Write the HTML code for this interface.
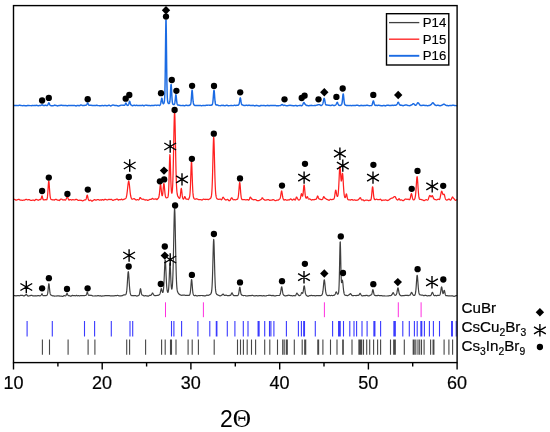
<!DOCTYPE html>
<html><head><meta charset="utf-8"><title>XRD</title>
<style>html,body{margin:0;padding:0;background:#fff}body{width:550px;height:432px;overflow:hidden}</style></head>
<body>
<svg width="550" height="432" viewBox="0 0 550 432" style="display:block">
<rect width="550" height="432" fill="#fff"/>
<polyline points="13.5,295.9 13.7,295.8 13.9,295.7 14.1,295.7 14.3,295.6 14.5,295.6 14.7,295.6 14.9,295.6 15.1,295.6 15.3,295.7 15.5,295.8 15.7,295.9 15.9,295.9 16.1,295.9 16.3,295.8 16.5,295.8 16.7,295.7 16.9,295.6 17.1,295.6 17.3,295.6 17.5,295.6 17.7,295.7 17.9,295.7 18.1,295.7 18.3,295.7 18.5,295.7 18.7,295.7 18.9,295.7 19.1,295.8 19.3,295.8 19.5,295.7 19.7,295.7 19.9,295.6 20.1,295.5 20.3,295.4 20.5,295.3 20.7,295.3 20.9,295.4 21.1,295.4 21.3,295.4 21.5,295.4 21.7,295.4 21.9,295.4 22.1,295.4 22.3,295.3 22.5,295.3 22.7,295.4 22.9,295.5 23.1,295.6 23.3,295.7 23.5,295.9 23.7,296.0 23.9,296.0 24.1,296.0 24.3,295.9 24.5,295.8 24.7,295.6 24.9,295.5 25.1,295.4 25.3,295.2 25.5,295.1 25.7,294.9 25.9,294.7 26.1,294.5 26.3,294.5 26.5,294.5 26.7,294.7 26.9,295.0 27.1,295.3 27.3,295.5 27.5,295.7 27.7,295.9 27.9,296.0 28.1,296.1 28.3,296.1 28.5,296.0 28.7,296.0 28.9,295.9 29.1,295.8 29.3,295.8 29.5,295.8 29.7,295.7 29.9,295.7 30.1,295.7 30.3,295.7 30.5,295.6 30.7,295.5 30.9,295.4 31.1,295.3 31.3,295.3 31.5,295.3 31.7,295.3 31.9,295.4 32.1,295.5 32.3,295.6 32.5,295.7 32.7,295.8 32.9,295.8 33.1,295.9 33.3,295.9 33.5,295.9 33.7,295.9 33.9,295.9 34.1,295.9 34.3,295.9 34.5,295.9 34.7,295.8 34.9,295.8 35.1,295.8 35.3,295.8 35.5,295.7 35.7,295.8 35.9,295.8 36.1,295.8 36.3,295.8 36.5,295.9 36.7,295.9 36.9,295.9 37.1,295.8 37.3,295.8 37.5,295.7 37.7,295.7 37.9,295.6 38.1,295.6 38.3,295.6 38.5,295.6 38.7,295.7 38.9,295.7 39.1,295.7 39.3,295.8 39.5,295.8 39.7,295.9 39.9,295.9 40.1,295.8 40.3,295.8 40.5,295.7 40.7,295.5 40.9,295.3 41.1,295.1 41.3,294.8 41.5,294.4 41.7,294.0 41.9,293.8 42.1,293.9 42.3,294.2 42.5,294.7 42.7,295.1 42.9,295.4 43.1,295.6 43.3,295.7 43.5,295.7 43.7,295.7 43.9,295.6 44.1,295.6 44.3,295.6 44.5,295.6 44.7,295.6 44.9,295.6 45.1,295.6 45.3,295.6 45.5,295.6 45.7,295.6 45.9,295.6 46.1,295.6 46.3,295.5 46.5,295.5 46.7,295.4 46.9,295.3 47.1,295.1 47.3,294.7 47.5,294.1 47.7,293.2 47.9,291.8 48.1,290.0 48.3,287.9 48.5,285.8 48.7,284.2 48.9,283.7 49.1,284.4 49.3,286.1 49.5,288.3 49.7,290.3 49.9,292.0 50.1,293.2 50.3,294.0 50.5,294.5 50.7,294.8 50.9,295.0 51.1,295.1 51.3,295.2 51.5,295.3 51.7,295.4 51.9,295.5 52.1,295.6 52.3,295.7 52.5,295.8 52.7,295.8 52.9,295.9 53.1,295.9 53.3,295.8 53.5,295.8 53.7,295.9 53.9,295.9 54.1,296.0 54.3,296.0 54.5,296.1 54.7,296.1 54.9,296.0 55.1,296.0 55.3,296.0 55.5,296.0 55.7,296.0 55.9,296.0 56.1,296.1 56.3,296.0 56.5,296.0 56.7,296.0 56.9,295.9 57.1,295.9 57.3,295.8 57.5,295.8 57.7,295.8 57.9,295.8 58.1,295.8 58.3,295.8 58.5,295.8 58.7,295.8 58.9,295.8 59.1,295.8 59.3,295.9 59.5,296.0 59.7,296.1 59.9,296.1 60.1,296.1 60.3,296.1 60.5,296.1 60.7,296.0 60.9,296.0 61.1,296.0 61.3,296.0 61.5,296.1 61.7,296.2 61.9,296.3 62.1,296.4 62.3,296.5 62.5,296.5 62.7,296.5 62.9,296.4 63.1,296.2 63.3,296.1 63.5,295.9 63.7,295.8 63.9,295.7 64.1,295.6 64.3,295.6 64.5,295.7 64.7,295.7 64.9,295.8 65.1,295.9 65.3,296.0 65.5,295.9 65.7,295.8 65.9,295.6 66.1,295.3 66.3,294.8 66.5,294.3 66.7,293.8 66.9,293.5 67.1,293.4 67.3,293.7 67.5,294.2 67.7,294.7 67.9,295.1 68.1,295.5 68.3,295.6 68.5,295.7 68.7,295.7 68.9,295.7 69.1,295.7 69.3,295.7 69.5,295.8 69.7,295.8 69.9,295.9 70.1,296.0 70.3,296.1 70.5,296.2 70.7,296.2 70.9,296.1 71.1,296.1 71.3,296.0 71.5,295.9 71.7,295.7 71.9,295.6 72.1,295.5 72.3,295.4 72.5,295.4 72.7,295.5 72.9,295.6 73.1,295.6 73.3,295.7 73.5,295.7 73.7,295.6 73.9,295.6 74.1,295.6 74.3,295.6 74.5,295.6 74.7,295.7 74.9,295.7 75.1,295.8 75.3,295.8 75.5,295.8 75.7,295.7 75.9,295.7 76.1,295.6 76.3,295.5 76.5,295.4 76.7,295.4 76.9,295.5 77.1,295.6 77.3,295.7 77.5,295.8 77.7,295.8 77.9,295.8 78.1,295.7 78.3,295.7 78.5,295.7 78.7,295.7 78.9,295.7 79.1,295.8 79.3,295.8 79.5,295.9 79.7,295.8 79.9,295.8 80.1,295.7 80.3,295.7 80.5,295.6 80.7,295.5 80.9,295.5 81.1,295.5 81.3,295.6 81.5,295.6 81.7,295.7 81.9,295.7 82.1,295.7 82.3,295.7 82.5,295.6 82.7,295.5 82.9,295.5 83.1,295.5 83.3,295.5 83.5,295.6 83.7,295.6 83.9,295.7 84.1,295.7 84.3,295.6 84.5,295.6 84.7,295.5 84.9,295.5 85.1,295.5 85.3,295.5 85.5,295.5 85.7,295.5 85.9,295.4 86.1,295.2 86.3,294.8 86.5,294.3 86.7,293.7 86.9,293.0 87.1,292.4 87.3,292.2 87.5,292.4 87.7,293.0 87.9,293.7 88.1,294.3 88.3,294.8 88.5,295.1 88.7,295.3 88.9,295.4 89.1,295.3 89.3,295.3 89.5,295.3 89.7,295.2 89.9,295.2 90.1,295.2 90.3,295.3 90.5,295.3 90.7,295.4 90.9,295.4 91.1,295.4 91.3,295.4 91.5,295.4 91.7,295.5 91.9,295.5 92.1,295.6 92.3,295.8 92.5,295.9 92.7,296.0 92.9,296.0 93.1,296.0 93.3,296.0 93.5,296.0 93.7,296.0 93.9,296.0 94.1,296.0 94.3,296.0 94.5,296.0 94.7,296.0 94.9,295.9 95.1,295.9 95.3,295.8 95.5,295.8 95.7,295.9 95.9,295.9 96.1,296.0 96.3,296.0 96.5,296.0 96.7,296.0 96.9,295.9 97.1,295.9 97.3,295.8 97.5,295.7 97.7,295.6 97.9,295.5 98.1,295.5 98.3,295.5 98.5,295.6 98.7,295.7 98.9,295.8 99.1,295.9 99.3,295.9 99.5,295.9 99.7,295.9 99.9,295.8 100.1,295.8 100.3,295.7 100.5,295.8 100.7,295.8 100.9,295.9 101.1,296.0 101.3,296.1 101.5,296.2 101.7,296.2 101.9,296.1 102.1,296.1 102.3,296.0 102.5,296.0 102.7,295.9 102.9,295.9 103.1,296.0 103.3,296.0 103.5,296.0 103.7,296.0 103.9,295.9 104.1,295.9 104.3,295.8 104.5,295.8 104.7,295.7 104.9,295.6 105.1,295.6 105.3,295.6 105.5,295.6 105.7,295.6 105.9,295.6 106.1,295.7 106.3,295.7 106.5,295.7 106.7,295.7 106.9,295.7 107.1,295.7 107.3,295.6 107.5,295.6 107.7,295.5 107.9,295.5 108.1,295.6 108.3,295.6 108.5,295.6 108.7,295.7 108.9,295.7 109.1,295.7 109.3,295.7 109.5,295.7 109.7,295.7 109.9,295.8 110.1,295.8 110.3,295.8 110.5,295.8 110.7,295.8 110.9,295.8 111.1,295.8 111.3,295.8 111.5,295.8 111.7,295.9 111.9,295.9 112.1,295.9 112.3,295.8 112.5,295.8 112.7,295.8 112.9,295.8 113.1,295.8 113.3,295.8 113.5,295.8 113.7,295.8 113.9,295.8 114.1,295.8 114.3,295.8 114.5,295.8 114.7,295.7 114.9,295.7 115.1,295.6 115.3,295.6 115.5,295.6 115.7,295.6 115.9,295.6 116.1,295.7 116.3,295.7 116.5,295.6 116.7,295.6 116.9,295.5 117.1,295.5 117.3,295.4 117.5,295.4 117.7,295.5 117.9,295.5 118.1,295.5 118.3,295.6 118.5,295.6 118.7,295.7 118.9,295.8 119.1,295.8 119.3,295.9 119.5,295.9 119.7,295.8 119.9,295.8 120.1,295.8 120.3,295.8 120.5,295.9 120.7,295.9 120.9,295.9 121.1,295.9 121.3,295.8 121.5,295.8 121.7,295.7 121.9,295.7 122.1,295.7 122.3,295.7 122.5,295.6 122.7,295.5 122.9,295.4 123.1,295.2 123.3,295.1 123.5,295.0 123.7,295.0 123.9,294.9 124.1,294.9 124.3,294.9 124.5,294.9 124.7,294.9 124.9,294.9 125.1,294.8 125.3,294.8 125.5,294.7 125.7,294.6 125.9,294.3 126.1,293.9 126.3,293.3 126.5,292.3 126.7,290.9 126.9,289.0 127.1,286.6 127.3,283.7 127.5,280.5 127.7,277.3 127.9,274.4 128.1,272.4 128.3,271.6 128.5,272.3 128.7,274.3 128.9,277.1 129.1,280.4 129.3,283.6 129.5,286.5 129.7,288.9 129.9,290.8 130.1,292.2 130.3,293.3 130.5,294.0 130.7,294.5 130.9,295.0 131.1,295.3 131.3,295.5 131.5,295.5 131.7,295.6 131.9,295.6 132.1,295.5 132.3,295.6 132.5,295.6 132.7,295.7 132.9,295.7 133.1,295.7 133.3,295.8 133.5,295.7 133.7,295.7 133.9,295.7 134.1,295.6 134.3,295.6 134.5,295.6 134.7,295.6 134.9,295.6 135.1,295.6 135.3,295.6 135.5,295.7 135.7,295.7 135.9,295.7 136.1,295.8 136.3,295.9 136.5,296.0 136.7,296.0 136.9,296.1 137.1,296.0 137.3,296.0 137.5,295.9 137.7,295.8 137.9,295.7 138.1,295.7 138.3,295.6 138.5,295.5 138.7,295.4 138.9,295.3 139.1,295.0 139.3,294.5 139.5,293.8 139.7,292.8 139.9,291.5 140.1,290.2 140.3,289.1 140.5,288.7 140.7,289.1 140.9,290.2 141.1,291.5 141.3,292.8 141.5,293.7 141.7,294.4 141.9,294.8 142.1,295.0 142.3,295.1 142.5,295.1 142.7,295.2 142.9,295.3 143.1,295.4 143.3,295.5 143.5,295.7 143.7,295.8 143.9,295.9 144.1,295.9 144.3,295.9 144.5,295.9 144.7,295.8 144.9,295.8 145.1,295.7 145.3,295.7 145.5,295.7 145.7,295.7 145.9,295.8 146.1,295.8 146.3,295.8 146.5,295.8 146.7,295.8 146.9,295.8 147.1,295.8 147.3,295.9 147.5,296.0 147.7,296.1 147.9,296.2 148.1,296.2 148.3,296.2 148.5,296.1 148.7,296.0 148.9,295.8 149.1,295.6 149.3,295.5 149.5,295.4 149.7,295.3 149.9,295.3 150.1,295.3 150.3,295.4 150.5,295.4 150.7,295.4 150.9,295.3 151.1,295.2 151.3,295.0 151.5,294.7 151.7,294.3 151.9,293.9 152.1,293.4 152.3,293.1 152.5,293.0 152.7,293.1 152.9,293.4 153.1,293.8 153.3,294.2 153.5,294.6 153.7,294.9 153.9,295.1 154.1,295.3 154.3,295.4 154.5,295.5 154.7,295.6 154.9,295.6 155.1,295.7 155.3,295.7 155.5,295.7 155.7,295.6 155.9,295.6 156.1,295.6 156.3,295.5 156.5,295.5 156.7,295.5 156.9,295.5 157.1,295.4 157.3,295.4 157.5,295.4 157.7,295.4 157.9,295.4 158.1,295.3 158.3,295.3 158.5,295.2 158.7,295.1 158.9,295.0 159.1,294.8 159.3,294.7 159.5,294.5 159.7,294.3 159.9,293.9 160.1,293.4 160.3,292.7 160.5,291.8 160.7,290.8 160.9,289.8 161.1,288.9 161.3,288.6 161.5,288.8 161.7,289.4 161.9,290.3 162.1,291.2 162.3,291.9 162.5,292.4 162.7,292.5 162.9,292.4 163.1,291.8 163.3,290.8 163.5,289.2 163.7,286.9 163.9,283.7 164.1,279.8 164.3,275.3 164.5,270.5 164.7,266.0 164.9,262.2 165.1,260.1 165.3,260.1 165.5,262.1 165.7,265.8 165.9,270.3 166.1,275.0 166.3,279.4 166.5,283.2 166.7,286.2 166.9,288.5 167.1,290.1 167.3,291.2 167.5,291.9 167.7,292.3 167.9,292.3 168.1,292.1 168.3,291.4 168.5,290.2 168.7,288.1 168.9,285.1 169.1,281.1 169.3,276.2 169.5,271.0 169.7,266.4 169.9,263.6 170.1,263.5 170.3,266.1 170.5,270.5 170.7,275.6 170.9,280.3 171.1,284.1 171.3,286.8 171.5,288.4 171.7,289.1 171.9,289.1 172.1,288.2 172.3,286.6 172.5,284.0 172.7,280.4 172.9,275.3 173.1,268.8 173.3,260.8 173.5,251.3 173.7,241.0 173.9,230.4 174.1,220.7 174.3,213.0 174.5,208.8 174.7,208.8 174.9,213.1 175.1,220.8 175.3,230.7 175.5,241.4 175.7,251.9 175.9,261.4 176.1,269.5 176.3,276.1 176.5,281.2 176.7,284.9 176.9,287.6 177.1,289.4 177.3,290.7 177.5,291.5 177.7,292.1 177.9,292.5 178.1,292.9 178.3,293.2 178.5,293.4 178.7,293.7 178.9,294.0 179.1,294.2 179.3,294.4 179.5,294.5 179.7,294.6 179.9,294.7 180.1,294.8 180.3,294.8 180.5,294.9 180.7,295.0 180.9,295.1 181.1,295.2 181.3,295.2 181.5,295.3 181.7,295.3 181.9,295.3 182.1,295.3 182.3,295.2 182.5,295.2 182.7,295.1 182.9,295.1 183.1,295.1 183.3,295.1 183.5,295.1 183.7,295.1 183.9,295.1 184.1,295.2 184.3,295.1 184.5,295.2 184.7,295.2 184.9,295.2 185.1,295.3 185.3,295.4 185.5,295.5 185.7,295.5 185.9,295.5 186.1,295.4 186.3,295.4 186.5,295.3 186.7,295.3 186.9,295.3 187.1,295.3 187.3,295.4 187.5,295.4 187.7,295.3 187.9,295.3 188.1,295.3 188.3,295.3 188.5,295.3 188.7,295.4 188.9,295.4 189.1,295.4 189.3,295.3 189.5,295.1 189.7,294.8 189.9,294.3 190.1,293.6 190.3,292.5 190.5,290.9 190.7,288.8 190.9,286.3 191.1,283.6 191.3,281.2 191.5,279.7 191.7,279.7 191.9,281.2 192.1,283.5 192.3,286.3 192.5,288.8 192.7,291.0 192.9,292.6 193.1,293.7 193.3,294.4 193.5,294.9 193.7,295.2 193.9,295.4 194.1,295.5 194.3,295.6 194.5,295.6 194.7,295.6 194.9,295.6 195.1,295.5 195.3,295.5 195.5,295.4 195.7,295.4 195.9,295.5 196.1,295.6 196.3,295.7 196.5,295.8 196.7,295.9 196.9,295.9 197.1,295.9 197.3,295.9 197.5,295.9 197.7,295.8 197.9,295.8 198.1,295.7 198.3,295.6 198.5,295.5 198.7,295.5 198.9,295.5 199.1,295.5 199.3,295.6 199.5,295.7 199.7,295.7 199.9,295.7 200.1,295.7 200.3,295.6 200.5,295.5 200.7,295.5 200.9,295.5 201.1,295.5 201.3,295.5 201.5,295.5 201.7,295.5 201.9,295.5 202.1,295.5 202.3,295.6 202.5,295.6 202.7,295.6 202.9,295.7 203.1,295.7 203.3,295.7 203.5,295.7 203.7,295.8 203.9,295.8 204.1,295.8 204.3,295.9 204.5,295.9 204.7,296.0 204.9,296.0 205.1,295.9 205.3,295.9 205.5,295.8 205.7,295.7 205.9,295.6 206.1,295.5 206.3,295.4 206.5,295.3 206.7,295.2 206.9,295.2 207.1,295.2 207.3,295.2 207.5,295.3 207.7,295.3 207.9,295.4 208.1,295.4 208.3,295.3 208.5,295.3 208.7,295.2 208.9,295.1 209.1,295.0 209.3,294.9 209.5,294.8 209.7,294.7 209.9,294.6 210.1,294.5 210.3,294.3 210.5,294.2 210.7,294.0 210.9,293.7 211.1,293.3 211.3,292.8 211.5,292.0 211.7,290.7 211.9,288.8 212.1,285.8 212.3,281.7 212.5,276.3 212.7,269.6 212.9,261.9 213.1,253.9 213.3,246.6 213.5,241.3 213.7,239.3 213.9,241.1 214.1,246.3 214.3,253.5 214.5,261.6 214.7,269.4 214.9,276.3 215.1,281.8 215.3,286.0 215.5,288.9 215.7,290.9 215.9,292.2 216.1,293.1 216.3,293.7 216.5,294.0 216.7,294.3 216.9,294.4 217.1,294.6 217.3,294.7 217.5,294.8 217.7,294.9 217.9,295.0 218.1,295.1 218.3,295.2 218.5,295.3 218.7,295.4 218.9,295.4 219.1,295.5 219.3,295.6 219.5,295.7 219.7,295.8 219.9,295.8 220.1,295.8 220.3,295.8 220.5,295.8 220.7,295.7 220.9,295.7 221.1,295.5 221.3,295.4 221.5,295.3 221.7,295.2 221.9,295.1 222.1,294.9 222.3,294.8 222.5,294.5 222.7,294.3 222.9,294.1 223.1,294.0 223.3,294.1 223.5,294.3 223.7,294.6 223.9,294.8 224.1,295.1 224.3,295.3 224.5,295.4 224.7,295.4 224.9,295.5 225.1,295.4 225.3,295.4 225.5,295.3 225.7,295.2 225.9,295.2 226.1,295.2 226.3,295.2 226.5,295.3 226.7,295.4 226.9,295.5 227.1,295.5 227.3,295.6 227.5,295.6 227.7,295.6 227.9,295.6 228.1,295.6 228.3,295.7 228.5,295.7 228.7,295.7 228.9,295.7 229.1,295.6 229.3,295.6 229.5,295.5 229.7,295.4 229.9,295.4 230.1,295.4 230.3,295.4 230.5,295.3 230.7,295.2 230.9,294.9 231.1,294.5 231.3,294.1 231.5,293.6 231.7,293.1 231.9,292.9 232.1,292.9 232.3,293.2 232.5,293.7 232.7,294.1 232.9,294.6 233.1,294.9 233.3,295.2 233.5,295.4 233.7,295.5 233.9,295.6 234.1,295.6 234.3,295.6 234.5,295.6 234.7,295.6 234.9,295.6 235.1,295.6 235.3,295.6 235.5,295.7 235.7,295.7 235.9,295.7 236.1,295.7 236.3,295.7 236.5,295.7 236.7,295.7 236.9,295.7 237.1,295.7 237.3,295.7 237.5,295.6 237.7,295.5 237.9,295.4 238.1,295.2 238.3,294.9 238.5,294.4 238.7,293.6 238.9,292.5 239.1,291.1 239.3,289.6 239.5,288.2 239.7,287.3 239.9,287.2 240.1,288.1 240.3,289.4 240.5,290.9 240.7,292.3 240.9,293.3 241.1,294.1 241.3,294.6 241.5,294.9 241.7,295.0 241.9,295.1 242.1,295.2 242.3,295.3 242.5,295.3 242.7,295.4 242.9,295.5 243.1,295.5 243.3,295.6 243.5,295.6 243.7,295.6 243.9,295.5 244.1,295.5 244.3,295.5 244.5,295.5 244.7,295.5 244.9,295.5 245.1,295.5 245.3,295.6 245.5,295.7 245.7,295.8 245.9,295.9 246.1,296.0 246.3,296.0 246.5,296.0 246.7,296.0 246.9,295.9 247.1,295.9 247.3,295.8 247.5,295.8 247.7,295.8 247.9,295.8 248.1,295.8 248.3,295.8 248.5,295.7 248.7,295.7 248.9,295.6 249.1,295.6 249.3,295.6 249.5,295.7 249.7,295.7 249.9,295.7 250.1,295.7 250.3,295.7 250.5,295.7 250.7,295.7 250.9,295.7 251.1,295.6 251.3,295.6 251.5,295.5 251.7,295.5 251.9,295.4 252.1,295.4 252.3,295.3 252.5,295.4 252.7,295.4 252.9,295.5 253.1,295.5 253.3,295.6 253.5,295.7 253.7,295.8 253.9,295.8 254.1,295.9 254.3,295.9 254.5,295.8 254.7,295.8 254.9,295.8 255.1,295.8 255.3,295.8 255.5,295.8 255.7,295.7 255.9,295.7 256.1,295.6 256.3,295.6 256.5,295.6 256.7,295.7 256.9,295.7 257.1,295.7 257.3,295.8 257.5,295.8 257.7,295.8 257.9,295.8 258.1,295.8 258.3,295.8 258.5,295.8 258.7,295.7 258.9,295.7 259.1,295.7 259.3,295.7 259.5,295.7 259.7,295.7 259.9,295.7 260.1,295.7 260.3,295.7 260.5,295.7 260.7,295.6 260.9,295.6 261.1,295.6 261.3,295.6 261.5,295.7 261.7,295.8 261.9,295.8 262.1,295.9 262.3,295.9 262.5,295.9 262.7,295.9 262.9,295.9 263.1,295.8 263.3,295.7 263.5,295.7 263.7,295.7 263.9,295.7 264.1,295.7 264.3,295.8 264.5,295.9 264.7,295.9 264.9,295.9 265.1,296.0 265.3,296.0 265.5,296.0 265.7,296.0 265.9,296.0 266.1,295.9 266.3,295.8 266.5,295.7 266.7,295.6 266.9,295.5 267.1,295.5 267.3,295.5 267.5,295.5 267.7,295.5 267.9,295.5 268.1,295.5 268.3,295.4 268.5,295.4 268.7,295.3 268.9,295.2 269.1,295.2 269.3,295.2 269.5,295.3 269.7,295.3 269.9,295.4 270.1,295.4 270.3,295.3 270.5,295.3 270.7,295.3 270.9,295.4 271.1,295.5 271.3,295.6 271.5,295.7 271.7,295.7 271.9,295.7 272.1,295.7 272.3,295.7 272.5,295.6 272.7,295.5 272.9,295.4 273.1,295.4 273.3,295.5 273.5,295.6 273.7,295.7 273.9,295.8 274.1,295.9 274.3,295.9 274.5,295.9 274.7,295.9 274.9,295.9 275.1,295.9 275.3,295.9 275.5,295.9 275.7,295.9 275.9,295.8 276.1,295.7 276.3,295.6 276.5,295.5 276.7,295.5 276.9,295.5 277.1,295.5 277.3,295.5 277.5,295.5 277.7,295.5 277.9,295.5 278.1,295.5 278.3,295.5 278.5,295.5 278.7,295.5 278.9,295.5 279.1,295.5 279.3,295.5 279.5,295.4 279.7,295.2 279.9,294.9 280.1,294.4 280.3,293.8 280.5,292.9 280.7,291.8 280.9,290.6 281.1,289.2 281.3,288.0 281.5,287.1 281.7,286.8 281.9,287.3 282.1,288.4 282.3,289.8 282.5,291.2 282.7,292.4 282.9,293.4 283.1,294.2 283.3,294.7 283.5,295.0 283.7,295.2 283.9,295.3 284.1,295.4 284.3,295.5 284.5,295.6 284.7,295.7 284.9,295.8 285.1,295.9 285.3,295.9 285.5,295.9 285.7,295.9 285.9,295.8 286.1,295.8 286.3,295.7 286.5,295.7 286.7,295.7 286.9,295.7 287.1,295.7 287.3,295.6 287.5,295.5 287.7,295.4 287.9,295.3 288.1,295.2 288.3,295.2 288.5,295.2 288.7,295.3 288.9,295.3 289.1,295.3 289.3,295.3 289.5,295.3 289.7,295.4 289.9,295.4 290.1,295.5 290.3,295.5 290.5,295.6 290.7,295.7 290.9,295.7 291.1,295.7 291.3,295.7 291.5,295.7 291.7,295.7 291.9,295.7 292.1,295.8 292.3,295.8 292.5,295.8 292.7,295.8 292.9,295.8 293.1,295.7 293.3,295.7 293.5,295.6 293.7,295.6 293.9,295.6 294.1,295.6 294.3,295.7 294.5,295.7 294.7,295.7 294.9,295.8 295.1,295.8 295.3,295.7 295.5,295.6 295.7,295.4 295.9,295.1 296.1,294.6 296.3,294.1 296.5,293.6 296.7,293.2 296.9,293.1 297.1,293.2 297.3,293.4 297.5,293.8 297.7,294.1 297.9,294.4 298.1,294.7 298.3,295.0 298.5,295.2 298.7,295.4 298.9,295.5 299.1,295.6 299.3,295.6 299.5,295.6 299.7,295.6 299.9,295.5 300.1,295.4 300.3,295.3 300.5,295.1 300.7,294.8 300.9,294.4 301.1,293.9 301.3,293.3 301.5,292.9 301.7,292.6 301.9,292.6 302.1,292.9 302.3,293.1 302.5,293.3 302.7,293.2 302.9,292.7 303.1,291.9 303.3,290.8 303.5,289.4 303.7,287.8 303.9,286.5 304.1,285.8 304.3,285.8 304.5,286.7 304.7,288.0 304.9,289.6 305.1,291.1 305.3,292.4 305.5,293.4 305.7,294.1 305.9,294.6 306.1,295.0 306.3,295.3 306.5,295.5 306.7,295.6 306.9,295.8 307.1,295.9 307.3,296.0 307.5,296.1 307.7,296.2 307.9,296.3 308.1,296.3 308.3,296.2 308.5,296.2 308.7,296.1 308.9,295.9 309.1,295.8 309.3,295.7 309.5,295.6 309.7,295.6 309.9,295.6 310.1,295.6 310.3,295.6 310.5,295.6 310.7,295.5 310.9,295.5 311.1,295.4 311.3,295.4 311.5,295.4 311.7,295.5 311.9,295.5 312.1,295.6 312.3,295.6 312.5,295.6 312.7,295.6 312.9,295.5 313.1,295.5 313.3,295.5 313.5,295.5 313.7,295.6 313.9,295.6 314.1,295.7 314.3,295.7 314.5,295.7 314.7,295.7 314.9,295.8 315.1,295.8 315.3,295.8 315.5,295.8 315.7,295.8 315.9,295.7 316.1,295.7 316.3,295.7 316.5,295.6 316.7,295.6 316.9,295.5 317.1,295.5 317.3,295.5 317.5,295.5 317.7,295.6 317.9,295.6 318.1,295.6 318.3,295.6 318.5,295.6 318.7,295.6 318.9,295.5 319.1,295.5 319.3,295.6 319.5,295.6 319.7,295.6 319.9,295.7 320.1,295.7 320.3,295.7 320.5,295.7 320.7,295.6 320.9,295.5 321.1,295.5 321.3,295.4 321.5,295.2 321.7,295.1 321.9,294.8 322.1,294.5 322.3,294.0 322.5,293.3 322.7,292.4 322.9,291.2 323.1,289.6 323.3,287.7 323.5,285.6 323.7,283.4 323.9,281.5 324.1,280.2 324.3,279.8 324.5,280.3 324.7,281.8 324.9,283.7 325.1,285.9 325.3,288.0 325.5,289.9 325.7,291.4 325.9,292.6 326.1,293.5 326.3,294.2 326.5,294.6 326.7,295.0 326.9,295.2 327.1,295.3 327.3,295.4 327.5,295.5 327.7,295.6 327.9,295.6 328.1,295.6 328.3,295.6 328.5,295.5 328.7,295.5 328.9,295.4 329.1,295.3 329.3,295.3 329.5,295.3 329.7,295.4 329.9,295.5 330.1,295.6 330.3,295.6 330.5,295.6 330.7,295.6 330.9,295.5 331.1,295.5 331.3,295.4 331.5,295.4 331.7,295.5 331.9,295.5 332.1,295.5 332.3,295.6 332.5,295.6 332.7,295.5 332.9,295.5 333.1,295.5 333.3,295.4 333.5,295.3 333.7,295.3 333.9,295.3 334.1,295.2 334.3,295.2 334.5,295.1 334.7,294.9 334.9,294.7 335.1,294.3 335.3,293.9 335.5,293.4 335.7,292.8 335.9,292.3 336.1,292.0 336.3,291.9 336.5,292.1 336.7,292.5 336.9,292.9 337.1,293.4 337.3,293.8 337.5,294.1 337.7,294.2 337.9,294.1 338.1,293.9 338.3,293.6 338.5,292.9 338.7,291.6 338.9,289.2 339.1,285.0 339.3,278.6 339.5,269.6 339.7,259.0 339.9,248.8 340.1,242.1 340.3,241.9 340.5,248.2 340.7,257.8 340.9,267.6 341.1,275.2 341.3,280.1 341.5,282.3 341.7,282.6 341.9,281.8 342.1,280.7 342.3,280.1 342.5,280.3 342.7,281.5 342.9,283.3 343.1,285.5 343.3,287.7 343.5,289.6 343.7,291.2 343.9,292.5 344.1,293.4 344.3,294.0 344.5,294.5 344.7,294.8 344.9,295.0 345.1,295.1 345.3,295.2 345.5,295.3 345.7,295.4 345.9,295.4 346.1,295.4 346.3,295.4 346.5,295.4 346.7,295.5 346.9,295.5 347.1,295.6 347.3,295.6 347.5,295.6 347.7,295.6 347.9,295.5 348.1,295.4 348.3,295.3 348.5,295.2 348.7,295.0 348.9,294.9 349.1,294.8 349.3,294.7 349.5,294.5 349.7,294.3 349.9,294.0 350.1,293.8 350.3,293.6 350.5,293.6 350.7,293.7 350.9,294.0 351.1,294.4 351.3,294.7 351.5,295.0 351.7,295.2 351.9,295.4 352.1,295.5 352.3,295.6 352.5,295.6 352.7,295.6 352.9,295.7 353.1,295.7 353.3,295.6 353.5,295.6 353.7,295.6 353.9,295.5 354.1,295.5 354.3,295.5 354.5,295.5 354.7,295.5 354.9,295.5 355.1,295.5 355.3,295.5 355.5,295.5 355.7,295.6 355.9,295.6 356.1,295.6 356.3,295.6 356.5,295.5 356.7,295.5 356.9,295.4 357.1,295.4 357.3,295.3 357.5,295.3 357.7,295.3 357.9,295.3 358.1,295.4 358.3,295.4 358.5,295.3 358.7,295.2 358.9,295.1 359.1,294.9 359.3,294.5 359.5,294.1 359.7,293.8 359.9,293.5 360.1,293.4 360.3,293.5 360.5,293.8 360.7,294.2 360.9,294.6 361.1,294.9 361.3,295.2 361.5,295.4 361.7,295.6 361.9,295.8 362.1,295.9 362.3,296.0 362.5,296.0 362.7,296.0 362.9,295.9 363.1,295.8 363.3,295.7 363.5,295.6 363.7,295.6 363.9,295.5 364.1,295.5 364.3,295.6 364.5,295.6 364.7,295.7 364.9,295.7 365.1,295.7 365.3,295.7 365.5,295.6 365.7,295.5 365.9,295.4 366.1,295.3 366.3,295.3 366.5,295.3 366.7,295.3 366.9,295.4 367.1,295.4 367.3,295.5 367.5,295.6 367.7,295.7 367.9,295.8 368.1,295.8 368.3,295.8 368.5,295.8 368.7,295.8 368.9,295.8 369.1,295.8 369.3,295.8 369.5,295.7 369.7,295.6 369.9,295.5 370.1,295.4 370.3,295.3 370.5,295.2 370.7,295.1 370.9,295.0 371.1,294.9 371.3,294.8 371.5,294.6 371.7,294.3 371.9,293.7 372.1,292.9 372.3,291.9 372.5,290.9 372.7,290.0 372.9,289.7 373.1,290.0 373.3,290.8 373.5,291.9 373.7,292.9 373.9,293.8 374.1,294.5 374.3,294.9 374.5,295.1 374.7,295.3 374.9,295.3 375.1,295.4 375.3,295.5 375.5,295.6 375.7,295.6 375.9,295.7 376.1,295.7 376.3,295.7 376.5,295.7 376.7,295.7 376.9,295.7 377.1,295.7 377.3,295.6 377.5,295.6 377.7,295.5 377.9,295.4 378.1,295.4 378.3,295.4 378.5,295.4 378.7,295.5 378.9,295.5 379.1,295.5 379.3,295.6 379.5,295.6 379.7,295.7 379.9,295.7 380.1,295.7 380.3,295.7 380.5,295.7 380.7,295.6 380.9,295.6 381.1,295.6 381.3,295.6 381.5,295.7 381.7,295.7 381.9,295.7 382.1,295.8 382.3,295.8 382.5,295.8 382.7,295.9 382.9,295.9 383.1,296.0 383.3,296.0 383.5,296.0 383.7,296.0 383.9,295.9 384.1,295.9 384.3,295.9 384.5,295.9 384.7,296.0 384.9,296.0 385.1,296.0 385.3,296.0 385.5,296.0 385.7,296.0 385.9,296.0 386.1,296.0 386.3,296.0 386.5,296.0 386.7,296.0 386.9,296.0 387.1,296.0 387.3,296.0 387.5,296.0 387.7,296.0 387.9,295.9 388.1,295.9 388.3,295.9 388.5,295.9 388.7,295.9 388.9,295.8 389.1,295.8 389.3,295.7 389.5,295.6 389.7,295.5 389.9,295.5 390.1,295.5 390.3,295.5 390.5,295.6 390.7,295.6 390.9,295.5 391.1,295.5 391.3,295.4 391.5,295.2 391.7,295.0 391.9,294.7 392.1,294.4 392.3,294.0 392.5,293.6 392.7,293.1 392.9,292.8 393.1,292.6 393.3,292.7 393.5,292.9 393.7,293.3 393.9,293.8 394.1,294.2 394.3,294.6 394.5,294.9 394.7,295.1 394.9,295.2 395.1,295.3 395.3,295.3 395.5,295.2 395.7,295.2 395.9,295.0 396.1,294.8 396.3,294.6 396.5,294.1 396.7,293.5 396.9,292.7 397.1,291.6 397.3,290.4 397.5,289.3 397.7,288.4 397.9,287.9 398.1,288.0 398.3,288.6 398.5,289.7 398.7,290.9 398.9,292.1 399.1,293.1 399.3,293.8 399.5,294.4 399.7,294.7 399.9,295.0 400.1,295.2 400.3,295.4 400.5,295.5 400.7,295.6 400.9,295.7 401.1,295.7 401.3,295.7 401.5,295.8 401.7,295.8 401.9,295.8 402.1,295.8 402.3,295.7 402.5,295.7 402.7,295.6 402.9,295.6 403.1,295.5 403.3,295.5 403.5,295.6 403.7,295.6 403.9,295.6 404.1,295.6 404.3,295.6 404.5,295.5 404.7,295.5 404.9,295.4 405.1,295.4 405.3,295.4 405.5,295.4 405.7,295.4 405.9,295.4 406.1,295.4 406.3,295.4 406.5,295.4 406.7,295.4 406.9,295.3 407.1,295.3 407.3,295.3 407.5,295.4 407.7,295.4 407.9,295.5 408.1,295.6 408.3,295.6 408.5,295.5 408.7,295.5 408.9,295.4 409.1,295.3 409.3,295.2 409.5,295.2 409.7,295.2 409.9,295.1 410.1,295.0 410.3,294.8 410.5,294.5 410.7,294.1 410.9,293.6 411.1,293.0 411.3,292.6 411.5,292.4 411.7,292.5 411.9,292.7 412.1,293.1 412.3,293.5 412.5,293.9 412.7,294.3 412.9,294.6 413.1,294.9 413.3,295.1 413.5,295.3 413.7,295.4 413.9,295.5 414.1,295.5 414.3,295.5 414.5,295.4 414.7,295.3 414.9,295.0 415.1,294.6 415.3,293.9 415.5,293.0 415.7,291.7 415.9,289.9 416.1,287.6 416.3,284.9 416.5,281.9 416.7,279.0 416.9,276.7 417.1,275.4 417.3,275.5 417.5,276.9 417.7,279.2 417.9,282.0 418.1,284.9 418.3,287.5 418.5,289.7 418.7,291.4 418.9,292.7 419.1,293.5 419.3,294.1 419.5,294.4 419.7,294.6 419.9,294.8 420.1,294.8 420.3,294.9 420.5,294.9 420.7,295.0 420.9,295.0 421.1,295.0 421.3,295.1 421.5,295.1 421.7,295.0 421.9,295.0 422.1,295.0 422.3,295.0 422.5,295.1 422.7,295.2 422.9,295.3 423.1,295.4 423.3,295.5 423.5,295.6 423.7,295.6 423.9,295.7 424.1,295.7 424.3,295.6 424.5,295.5 424.7,295.4 424.9,295.3 425.1,295.3 425.3,295.2 425.5,295.3 425.7,295.3 425.9,295.4 426.1,295.5 426.3,295.6 426.5,295.7 426.7,295.7 426.9,295.7 427.1,295.8 427.3,295.8 427.5,295.9 427.7,295.9 427.9,295.9 428.1,295.8 428.3,295.7 428.5,295.7 428.7,295.6 428.9,295.6 429.1,295.7 429.3,295.7 429.5,295.7 429.7,295.8 429.9,295.8 430.1,295.7 430.3,295.7 430.5,295.6 430.7,295.5 430.9,295.3 431.1,295.0 431.3,294.6 431.5,294.1 431.7,293.6 431.9,293.0 432.1,292.6 432.3,292.4 432.5,292.4 432.7,292.7 432.9,293.1 433.1,293.6 433.3,294.1 433.5,294.6 433.7,295.0 433.9,295.3 434.1,295.5 434.3,295.6 434.5,295.6 434.7,295.6 434.9,295.5 435.1,295.5 435.3,295.4 435.5,295.5 435.7,295.5 435.9,295.6 436.1,295.7 436.3,295.8 436.5,295.8 436.7,295.7 436.9,295.7 437.1,295.5 437.3,295.5 437.5,295.4 437.7,295.4 437.9,295.4 438.1,295.4 438.3,295.4 438.5,295.4 438.7,295.4 438.9,295.3 439.1,295.3 439.3,295.3 439.5,295.2 439.7,295.1 439.9,294.8 440.1,294.4 440.3,293.7 440.5,292.8 440.7,291.6 440.9,290.3 441.1,288.9 441.3,287.6 441.5,286.9 441.7,286.9 441.9,287.7 442.1,288.9 442.3,290.3 442.5,291.6 442.7,292.7 442.9,293.3 443.1,293.6 443.3,293.4 443.5,292.9 443.7,292.1 443.9,291.2 444.1,290.5 444.3,290.3 444.5,290.7 444.7,291.6 444.9,292.6 445.1,293.6 445.3,294.4 445.5,295.0 445.7,295.4 445.9,295.6 446.1,295.7 446.3,295.7 446.5,295.7 446.7,295.6 446.9,295.6 447.1,295.6 447.3,295.7 447.5,295.7 447.7,295.8 447.9,295.9 448.1,295.9 448.3,295.9 448.5,295.9 448.7,295.9 448.9,295.9 449.1,295.9 449.3,295.9 449.5,295.9 449.7,295.9 449.9,296.0 450.1,296.0 450.3,296.0 450.5,296.0 450.7,295.9 450.9,295.9 451.1,295.9 451.3,295.9 451.5,295.8 451.7,295.8 451.9,295.8 452.1,295.8 452.3,295.8 452.5,295.9 452.7,295.9 452.9,296.0 453.1,296.1 453.3,296.1 453.5,296.2 453.7,296.3 453.9,296.3 454.1,296.3 454.3,296.3 454.5,296.3 454.7,296.2 454.9,296.1 455.1,296.1 455.3,296.0 455.5,295.8 455.7,295.7 455.9,295.6 456.1,295.5 456.3,295.5 456.5,295.5 456.7,295.5 456.9,295.6 457.1,295.6" fill="none" stroke="#404040" stroke-width="1.2" stroke-linejoin="round"/>
<polyline points="13.5,199.6 13.7,199.5 13.9,199.5 14.1,199.4 14.3,199.4 14.5,199.3 14.7,199.4 14.9,199.5 15.1,199.6 15.3,199.8 15.5,199.9 15.7,200.1 15.9,200.1 16.1,200.1 16.3,200.1 16.5,200.0 16.7,200.0 16.9,199.9 17.1,199.8 17.3,199.8 17.5,199.7 17.7,199.6 17.9,199.5 18.1,199.5 18.3,199.4 18.5,199.3 18.7,199.3 18.9,199.3 19.1,199.4 19.3,199.5 19.5,199.7 19.7,199.8 19.9,199.9 20.1,200.1 20.3,200.1 20.5,200.2 20.7,200.2 20.9,200.2 21.1,200.1 21.3,200.1 21.5,200.2 21.7,200.2 21.9,200.3 22.1,200.3 22.3,200.3 22.5,200.3 22.7,200.3 22.9,200.2 23.1,200.1 23.3,200.1 23.5,200.1 23.7,200.1 23.9,200.1 24.1,200.1 24.3,200.1 24.5,200.1 24.7,200.0 24.9,199.9 25.1,199.8 25.3,199.6 25.5,199.5 25.7,199.5 25.9,199.4 26.1,199.4 26.3,199.4 26.5,199.4 26.7,199.5 26.9,199.6 27.1,199.7 27.3,199.8 27.5,199.9 27.7,199.9 27.9,199.8 28.1,199.8 28.3,199.7 28.5,199.6 28.7,199.5 28.9,199.5 29.1,199.5 29.3,199.6 29.5,199.7 29.7,199.9 29.9,200.0 30.1,200.1 30.3,200.2 30.5,200.3 30.7,200.3 30.9,200.4 31.1,200.4 31.3,200.4 31.5,200.4 31.7,200.4 31.9,200.3 32.1,200.3 32.3,200.2 32.5,200.2 32.7,200.1 32.9,200.1 33.1,200.0 33.3,200.0 33.5,200.0 33.7,200.1 33.9,200.2 34.1,200.4 34.3,200.5 34.5,200.6 34.7,200.5 34.9,200.4 35.1,200.1 35.3,199.8 35.5,199.6 35.7,199.5 35.9,199.4 36.1,199.4 36.3,199.4 36.5,199.5 36.7,199.6 36.9,199.6 37.1,199.7 37.3,199.8 37.5,199.9 37.7,200.0 37.9,200.1 38.1,200.2 38.3,200.3 38.5,200.2 38.7,200.1 38.9,200.0 39.1,199.8 39.3,199.7 39.5,199.6 39.7,199.5 39.9,199.6 40.1,199.6 40.3,199.6 40.5,199.6 40.7,199.5 40.9,199.3 41.1,198.8 41.3,198.1 41.5,197.3 41.7,196.5 41.9,196.0 42.1,195.9 42.3,196.5 42.5,197.4 42.7,198.3 42.9,199.1 43.1,199.6 43.3,199.8 43.5,199.8 43.7,199.8 43.9,199.7 44.1,199.7 44.3,199.8 44.5,199.9 44.7,199.9 44.9,199.9 45.1,199.9 45.3,199.7 45.5,199.6 45.7,199.5 45.9,199.5 46.1,199.5 46.3,199.6 46.5,199.7 46.7,199.8 46.9,199.6 47.1,199.1 47.3,198.0 47.5,196.4 47.7,194.2 47.9,191.5 48.1,188.4 48.3,185.3 48.5,182.7 48.7,181.2 48.9,181.3 49.1,182.9 49.3,185.6 49.5,188.7 49.7,191.6 49.9,194.1 50.1,196.0 50.3,197.3 50.5,198.2 50.7,198.8 50.9,199.1 51.1,199.4 51.3,199.5 51.5,199.6 51.7,199.6 51.9,199.6 52.1,199.7 52.3,199.7 52.5,199.8 52.7,199.9 52.9,200.0 53.1,199.9 53.3,199.9 53.5,199.9 53.7,199.9 53.9,199.9 54.1,200.0 54.3,200.0 54.5,200.0 54.7,199.9 54.9,199.7 55.1,199.6 55.3,199.4 55.5,199.3 55.7,199.3 55.9,199.3 56.1,199.3 56.3,199.4 56.5,199.5 56.7,199.7 56.9,199.8 57.1,199.9 57.3,200.0 57.5,200.1 57.7,200.1 57.9,200.1 58.1,200.1 58.3,200.1 58.5,200.2 58.7,200.3 58.9,200.4 59.1,200.5 59.3,200.5 59.5,200.4 59.7,200.2 59.9,200.0 60.1,199.7 60.3,199.5 60.5,199.3 60.7,199.2 60.9,199.1 61.1,199.1 61.3,199.1 61.5,199.1 61.7,199.2 61.9,199.3 62.1,199.4 62.3,199.6 62.5,199.8 62.7,199.9 62.9,199.9 63.1,200.0 63.3,199.9 63.5,199.9 63.7,199.8 63.9,199.8 64.1,199.7 64.3,199.7 64.5,199.8 64.7,199.9 64.9,200.1 65.1,200.1 65.3,200.1 65.5,200.0 65.7,199.8 65.9,199.5 66.1,199.1 66.3,198.7 66.5,198.2 66.7,197.7 66.9,197.2 67.1,196.8 67.3,196.7 67.5,196.8 67.7,197.2 67.9,197.7 68.1,198.3 68.3,198.9 68.5,199.4 68.7,199.8 68.9,200.0 69.1,200.1 69.3,200.0 69.5,199.9 69.7,199.7 69.9,199.6 70.1,199.5 70.3,199.5 70.5,199.5 70.7,199.6 70.9,199.7 71.1,199.8 71.3,199.9 71.5,200.0 71.7,200.0 71.9,200.0 72.1,199.9 72.3,199.8 72.5,199.7 72.7,199.6 72.9,199.7 73.1,199.7 73.3,199.7 73.5,199.8 73.7,199.8 73.9,199.8 74.1,199.8 74.3,199.8 74.5,199.8 74.7,199.8 74.9,199.8 75.1,199.8 75.3,199.7 75.5,199.6 75.7,199.4 75.9,199.3 76.1,199.3 76.3,199.3 76.5,199.3 76.7,199.4 76.9,199.5 77.1,199.7 77.3,199.8 77.5,200.0 77.7,200.1 77.9,200.2 78.1,200.3 78.3,200.3 78.5,200.4 78.7,200.4 78.9,200.4 79.1,200.3 79.3,200.3 79.5,200.2 79.7,200.2 79.9,200.2 80.1,200.2 80.3,200.2 80.5,200.3 80.7,200.3 80.9,200.3 81.1,200.3 81.3,200.3 81.5,200.3 81.7,200.4 81.9,200.5 82.1,200.7 82.3,200.8 82.5,200.8 82.7,200.8 82.9,200.8 83.1,200.7 83.3,200.6 83.5,200.5 83.7,200.4 83.9,200.3 84.1,200.2 84.3,200.1 84.5,200.0 84.7,199.9 84.9,199.9 85.1,199.9 85.3,199.9 85.5,199.9 85.7,199.7 85.9,199.5 86.1,199.0 86.3,198.4 86.5,197.6 86.7,196.7 86.9,195.8 87.1,195.2 87.3,195.1 87.5,195.7 87.7,196.7 87.9,197.7 88.1,198.6 88.3,199.3 88.5,199.8 88.7,200.1 88.9,200.3 89.1,200.5 89.3,200.5 89.5,200.5 89.7,200.4 89.9,200.3 90.1,200.2 90.3,200.2 90.5,200.1 90.7,200.2 90.9,200.3 91.1,200.5 91.3,200.7 91.5,200.9 91.7,201.1 91.9,201.2 92.1,201.2 92.3,201.1 92.5,200.9 92.7,200.7 92.9,200.5 93.1,200.4 93.3,200.3 93.5,200.2 93.7,200.1 93.9,200.0 94.1,199.8 94.3,199.7 94.5,199.6 94.7,199.6 94.9,199.7 95.1,199.8 95.3,200.0 95.5,200.1 95.7,200.1 95.9,200.1 96.1,200.1 96.3,200.1 96.5,200.0 96.7,199.9 96.9,199.8 97.1,199.7 97.3,199.6 97.5,199.6 97.7,199.5 97.9,199.5 98.1,199.5 98.3,199.6 98.5,199.6 98.7,199.7 98.9,199.9 99.1,200.0 99.3,200.1 99.5,200.1 99.7,200.1 99.9,200.1 100.1,200.0 100.3,199.9 100.5,199.8 100.7,199.8 100.9,199.9 101.1,200.0 101.3,200.1 101.5,200.0 101.7,200.0 101.9,199.8 102.1,199.7 102.3,199.5 102.5,199.5 102.7,199.5 102.9,199.6 103.1,199.8 103.3,200.0 103.5,200.1 103.7,200.1 103.9,200.1 104.1,199.9 104.3,199.8 104.5,199.6 104.7,199.4 104.9,199.3 105.1,199.3 105.3,199.3 105.5,199.3 105.7,199.4 105.9,199.5 106.1,199.6 106.3,199.7 106.5,199.7 106.7,199.8 106.9,199.8 107.1,199.8 107.3,199.9 107.5,199.9 107.7,199.9 107.9,199.8 108.1,199.7 108.3,199.6 108.5,199.5 108.7,199.4 108.9,199.3 109.1,199.3 109.3,199.4 109.5,199.4 109.7,199.5 109.9,199.5 110.1,199.5 110.3,199.5 110.5,199.5 110.7,199.4 110.9,199.4 111.1,199.3 111.3,199.3 111.5,199.4 111.7,199.5 111.9,199.7 112.1,199.9 112.3,200.1 112.5,200.2 112.7,200.3 112.9,200.4 113.1,200.4 113.3,200.3 113.5,200.2 113.7,200.1 113.9,200.0 114.1,199.9 114.3,199.8 114.5,199.8 114.7,199.7 114.9,199.7 115.1,199.7 115.3,199.6 115.5,199.6 115.7,199.6 115.9,199.5 116.1,199.4 116.3,199.2 116.5,199.1 116.7,199.0 116.9,199.0 117.1,199.0 117.3,199.1 117.5,199.2 117.7,199.5 117.9,199.7 118.1,199.9 118.3,200.0 118.5,200.0 118.7,200.0 118.9,199.8 119.1,199.7 119.3,199.6 119.5,199.5 119.7,199.5 119.9,199.6 120.1,199.6 120.3,199.7 120.5,199.8 120.7,199.7 120.9,199.6 121.1,199.4 121.3,199.2 121.5,199.2 121.7,199.2 121.9,199.3 122.1,199.5 122.3,199.7 122.5,199.8 122.7,199.9 122.9,199.8 123.1,199.7 123.3,199.6 123.5,199.4 123.7,199.3 123.9,199.3 124.1,199.3 124.3,199.2 124.5,199.2 124.7,199.1 124.9,198.9 125.1,198.8 125.3,198.7 125.5,198.6 125.7,198.4 125.9,198.1 126.1,197.8 126.3,197.2 126.5,196.5 126.7,195.5 126.9,194.2 127.1,192.7 127.3,191.1 127.5,189.3 127.7,187.4 127.9,185.6 128.1,183.9 128.3,182.5 128.5,181.5 128.7,181.2 128.9,181.5 129.1,182.5 129.3,184.0 129.5,185.8 129.7,187.8 129.9,189.8 130.1,191.7 130.3,193.4 130.5,194.8 130.7,196.0 130.9,196.8 131.1,197.5 131.3,198.1 131.5,198.5 131.7,198.8 131.9,199.1 132.1,199.2 132.3,199.2 132.5,199.2 132.7,199.1 132.9,198.9 133.1,198.9 133.3,198.8 133.5,198.8 133.7,198.7 133.9,198.7 134.1,198.6 134.3,198.7 134.5,198.8 134.7,199.0 134.9,199.2 135.1,199.4 135.3,199.5 135.5,199.6 135.7,199.8 135.9,199.8 136.1,199.9 136.3,200.0 136.5,199.9 136.7,199.9 136.9,199.8 137.1,199.7 137.3,199.6 137.5,199.6 137.7,199.6 137.9,199.7 138.1,199.8 138.3,199.9 138.5,200.0 138.7,199.9 138.9,199.8 139.1,199.6 139.3,199.2 139.5,198.7 139.7,198.2 139.9,197.7 140.1,197.5 140.3,197.5 140.5,197.7 140.7,198.0 140.9,198.3 141.1,198.6 141.3,198.8 141.5,198.9 141.7,199.0 141.9,199.0 142.1,199.2 142.3,199.2 142.5,199.3 142.7,199.3 142.9,199.2 143.1,199.1 143.3,199.1 143.5,199.2 143.7,199.3 143.9,199.5 144.1,199.6 144.3,199.7 144.5,199.8 144.7,199.9 144.9,199.9 145.1,199.9 145.3,200.0 145.5,200.0 145.7,200.0 145.9,199.9 146.1,199.9 146.3,199.8 146.5,199.8 146.7,199.8 146.9,199.9 147.1,200.0 147.3,200.1 147.5,200.3 147.7,200.3 147.9,200.4 148.1,200.3 148.3,200.2 148.5,200.1 148.7,200.0 148.9,199.9 149.1,199.8 149.3,199.7 149.5,199.6 149.7,199.5 149.9,199.4 150.1,199.4 150.3,199.3 150.5,199.3 150.7,199.3 150.9,199.3 151.1,199.3 151.3,199.3 151.5,199.2 151.7,199.0 151.9,198.8 152.1,198.6 152.3,198.4 152.5,198.4 152.7,198.5 152.9,198.7 153.1,198.9 153.3,199.1 153.5,199.2 153.7,199.2 153.9,199.1 154.1,199.0 154.3,199.0 154.5,199.0 154.7,199.1 154.9,199.1 155.1,199.1 155.3,199.0 155.5,198.9 155.7,198.9 155.9,198.9 156.1,199.0 156.3,199.2 156.5,199.4 156.7,199.5 156.9,199.6 157.1,199.5 157.3,199.3 157.5,199.0 157.7,198.8 157.9,198.5 158.1,198.4 158.3,198.2 158.5,197.9 158.7,197.6 158.9,197.0 159.1,196.0 159.3,194.7 159.5,193.0 159.7,190.9 159.9,188.7 160.1,186.6 160.3,185.0 160.5,184.3 160.7,184.8 160.9,186.2 161.1,188.2 161.3,190.4 161.5,192.4 161.7,194.0 161.9,195.1 162.1,195.7 162.3,195.7 162.5,195.1 162.7,193.9 162.9,192.2 163.1,190.1 163.3,187.9 163.5,185.7 163.7,184.1 163.9,183.5 164.1,184.1 164.3,185.7 164.5,188.0 164.7,190.4 164.9,192.6 165.1,194.3 165.3,195.7 165.5,196.6 165.7,197.1 165.9,197.5 166.1,197.7 166.3,197.8 166.5,197.8 166.7,197.8 166.9,197.8 167.1,197.7 167.3,197.6 167.5,197.5 167.7,197.4 167.9,197.1 168.1,196.4 168.3,195.1 168.5,192.8 168.7,189.2 168.9,184.0 169.1,177.4 169.3,169.9 169.5,162.5 169.7,156.8 169.9,154.6 170.1,156.4 170.3,161.7 170.5,168.6 170.7,175.7 170.9,181.9 171.1,186.7 171.3,190.1 171.5,192.1 171.7,193.1 171.9,193.2 172.1,192.5 172.3,191.0 172.5,188.5 172.7,184.9 172.9,179.7 173.1,173.0 173.3,164.7 173.5,155.1 173.7,144.6 173.9,133.9 174.1,124.2 174.3,116.6 174.5,112.5 174.7,112.6 174.9,117.0 175.1,124.9 175.3,134.9 175.5,145.8 175.7,156.3 175.9,165.9 176.1,174.0 176.3,180.5 176.5,185.4 176.7,188.9 176.9,191.5 177.1,193.2 177.3,194.5 177.5,195.3 177.7,195.9 177.9,196.4 178.1,196.7 178.3,197.0 178.5,197.3 178.7,197.6 178.9,197.9 179.1,198.2 179.3,198.3 179.5,198.4 179.7,198.2 179.9,197.8 180.1,197.1 180.3,195.9 180.5,194.3 180.7,192.3 180.9,190.4 181.1,188.9 181.3,188.4 181.5,189.0 181.7,190.5 181.9,192.4 182.1,194.3 182.3,195.9 182.5,197.1 182.7,197.9 182.9,198.5 183.1,198.8 183.3,199.0 183.5,199.0 183.7,198.8 183.9,198.5 184.1,198.0 184.3,197.4 184.5,196.9 184.7,196.6 184.9,196.6 185.1,197.0 185.3,197.5 185.5,198.1 185.7,198.5 185.9,198.9 186.1,199.0 186.3,199.1 186.5,199.2 186.7,199.1 186.9,199.1 187.1,199.1 187.3,199.1 187.5,199.2 187.7,199.3 187.9,199.4 188.1,199.5 188.3,199.5 188.5,199.3 188.7,199.0 188.9,198.7 189.1,198.3 189.3,197.8 189.5,197.1 189.7,196.1 189.9,194.6 190.1,192.3 190.3,189.1 190.5,184.7 190.7,179.3 190.9,173.3 191.1,167.5 191.3,163.2 191.5,161.6 191.7,163.2 191.9,167.5 192.1,173.2 192.3,179.1 192.5,184.6 192.7,189.0 192.9,192.4 193.1,194.7 193.3,196.3 193.5,197.3 193.7,197.9 193.9,198.3 194.1,198.6 194.3,198.8 194.5,199.0 194.7,199.1 194.9,199.2 195.1,199.2 195.3,199.2 195.5,199.2 195.7,199.1 195.9,199.0 196.1,198.9 196.3,198.8 196.5,198.7 196.7,198.8 196.9,198.9 197.1,199.0 197.3,199.1 197.5,199.1 197.7,199.2 197.9,199.3 198.1,199.4 198.3,199.5 198.5,199.6 198.7,199.6 198.9,199.7 199.1,199.7 199.3,199.7 199.5,199.7 199.7,199.7 199.9,199.6 200.1,199.6 200.3,199.5 200.5,199.5 200.7,199.5 200.9,199.6 201.1,199.7 201.3,199.8 201.5,199.9 201.7,200.0 201.9,200.0 202.1,200.0 202.3,199.9 202.5,199.8 202.7,199.6 202.9,199.5 203.1,199.3 203.3,199.2 203.5,199.1 203.7,199.2 203.9,199.2 204.1,199.3 204.3,199.4 204.5,199.4 204.7,199.4 204.9,199.4 205.1,199.5 205.3,199.5 205.5,199.4 205.7,199.4 205.9,199.4 206.1,199.3 206.3,199.3 206.5,199.3 206.7,199.3 206.9,199.3 207.1,199.3 207.3,199.3 207.5,199.3 207.7,199.4 207.9,199.5 208.1,199.5 208.3,199.6 208.5,199.6 208.7,199.5 208.9,199.4 209.1,199.2 209.3,199.1 209.5,198.9 209.7,198.9 209.9,198.8 210.1,198.7 210.3,198.5 210.5,198.3 210.7,198.1 210.9,197.8 211.1,197.3 211.3,196.5 211.5,195.4 211.7,193.6 211.9,191.0 212.1,187.4 212.3,182.5 212.5,176.2 212.7,168.7 212.9,160.4 213.1,151.9 213.3,144.4 213.5,139.0 213.7,137.0 213.9,138.9 214.1,144.2 214.3,151.7 214.5,160.1 214.7,168.4 214.9,175.9 215.1,182.1 215.3,187.1 215.5,190.7 215.7,193.4 215.9,195.2 216.1,196.4 216.3,197.2 216.5,197.8 216.7,198.2 216.9,198.6 217.1,198.8 217.3,199.0 217.5,199.1 217.7,199.1 217.9,199.1 218.1,199.2 218.3,199.3 218.5,199.3 218.7,199.4 218.9,199.4 219.1,199.3 219.3,199.3 219.5,199.2 219.7,199.2 219.9,199.1 220.1,199.1 220.3,199.1 220.5,199.1 220.7,199.2 220.9,199.4 221.1,199.6 221.3,199.8 221.5,199.8 221.7,199.7 221.9,199.4 222.1,199.0 222.3,198.6 222.5,198.1 222.7,197.6 222.9,197.3 223.1,197.2 223.3,197.3 223.5,197.5 223.7,197.9 223.9,198.2 224.1,198.5 224.3,198.8 224.5,199.0 224.7,199.2 224.9,199.4 225.1,199.6 225.3,199.7 225.5,199.9 225.7,200.0 225.9,200.0 226.1,200.0 226.3,199.9 226.5,199.8 226.7,199.7 226.9,199.6 227.1,199.5 227.3,199.4 227.5,199.4 227.7,199.5 227.9,199.6 228.1,199.8 228.3,200.0 228.5,200.3 228.7,200.5 228.9,200.7 229.1,200.7 229.3,200.8 229.5,200.7 229.7,200.6 229.9,200.5 230.1,200.3 230.3,200.0 230.5,199.7 230.7,199.2 230.9,198.8 231.1,198.4 231.3,198.1 231.5,197.9 231.7,197.8 231.9,197.9 232.1,198.2 232.3,198.5 232.5,198.8 232.7,199.1 232.9,199.3 233.1,199.5 233.3,199.7 233.5,199.7 233.7,199.8 233.9,199.8 234.1,199.8 234.3,199.7 234.5,199.7 234.7,199.7 234.9,199.7 235.1,199.8 235.3,199.8 235.5,199.8 235.7,199.8 235.9,199.7 236.1,199.6 236.3,199.5 236.5,199.5 236.7,199.4 236.9,199.4 237.1,199.4 237.3,199.3 237.5,199.1 237.7,198.8 237.9,198.3 238.1,197.6 238.3,196.5 238.5,195.0 238.7,193.0 238.9,190.6 239.1,187.9 239.3,185.3 239.5,183.3 239.7,182.4 239.9,183.0 240.1,184.9 240.3,187.4 240.5,190.1 240.7,192.7 240.9,194.8 241.1,196.5 241.3,197.7 241.5,198.5 241.7,199.1 241.9,199.4 242.1,199.6 242.3,199.6 242.5,199.7 242.7,199.6 242.9,199.6 243.1,199.6 243.3,199.6 243.5,199.6 243.7,199.6 243.9,199.5 244.1,199.5 244.3,199.5 244.5,199.5 244.7,199.6 244.9,199.7 245.1,199.7 245.3,199.8 245.5,199.8 245.7,199.9 245.9,199.9 246.1,199.9 246.3,199.9 246.5,199.8 246.7,199.7 246.9,199.6 247.1,199.5 247.3,199.5 247.5,199.5 247.7,199.7 247.9,199.8 248.1,200.0 248.3,200.1 248.5,200.2 248.7,200.1 248.9,200.0 249.1,199.8 249.3,199.4 249.5,198.9 249.7,198.3 249.9,197.8 250.1,197.4 250.3,197.1 250.5,197.1 250.7,197.4 250.9,197.8 251.1,198.2 251.3,198.5 251.5,198.8 251.7,199.0 251.9,199.1 252.1,199.1 252.3,199.2 252.5,199.3 252.7,199.4 252.9,199.6 253.1,199.7 253.3,199.8 253.5,199.8 253.7,199.8 253.9,199.7 254.1,199.7 254.3,199.7 254.5,199.7 254.7,199.7 254.9,199.7 255.1,199.7 255.3,199.7 255.5,199.7 255.7,199.7 255.9,199.8 256.1,199.9 256.3,200.0 256.5,200.2 256.7,200.4 256.9,200.5 257.1,200.6 257.3,200.6 257.5,200.6 257.7,200.7 257.9,200.7 258.1,200.7 258.3,200.7 258.5,200.7 258.7,200.7 258.9,200.6 259.1,200.5 259.3,200.4 259.5,200.3 259.7,200.2 259.9,200.1 260.1,200.0 260.3,199.9 260.5,199.8 260.7,199.7 260.9,199.6 261.1,199.4 261.3,199.2 261.5,198.9 261.7,198.6 261.9,198.2 262.1,197.9 262.3,197.8 262.5,197.8 262.7,198.1 262.9,198.4 263.1,198.8 263.3,199.1 263.5,199.3 263.7,199.4 263.9,199.5 264.1,199.6 264.3,199.7 264.5,199.9 264.7,200.0 264.9,200.2 265.1,200.2 265.3,200.2 265.5,200.2 265.7,200.1 265.9,200.1 266.1,200.0 266.3,200.0 266.5,199.9 266.7,199.9 266.9,199.9 267.1,199.8 267.3,199.8 267.5,199.7 267.7,199.6 267.9,199.5 268.1,199.5 268.3,199.5 268.5,199.6 268.7,199.7 268.9,199.8 269.1,200.0 269.3,200.1 269.5,200.3 269.7,200.4 269.9,200.4 270.1,200.4 270.3,200.3 270.5,200.2 270.7,200.1 270.9,200.1 271.1,200.1 271.3,200.2 271.5,200.2 271.7,200.2 271.9,200.2 272.1,200.1 272.3,200.0 272.5,199.8 272.7,199.7 272.9,199.6 273.1,199.6 273.3,199.6 273.5,199.7 273.7,199.8 273.9,199.9 274.1,200.1 274.3,200.2 274.5,200.3 274.7,200.4 274.9,200.5 275.1,200.6 275.3,200.6 275.5,200.6 275.7,200.6 275.9,200.6 276.1,200.5 276.3,200.4 276.5,200.3 276.7,200.2 276.9,200.1 277.1,200.1 277.3,200.1 277.5,200.1 277.7,200.2 277.9,200.2 278.1,200.2 278.3,200.1 278.5,200.0 278.7,199.8 278.9,199.6 279.1,199.4 279.3,199.3 279.5,199.1 279.7,198.9 279.9,198.7 280.1,198.3 280.3,197.7 280.5,196.9 280.7,195.7 280.9,194.4 281.1,193.0 281.3,191.8 281.5,191.1 281.7,191.0 281.9,191.8 282.1,193.0 282.3,194.4 282.5,195.8 282.7,197.0 282.9,197.9 283.1,198.6 283.3,199.1 283.5,199.5 283.7,199.8 283.9,200.0 284.1,200.1 284.3,200.1 284.5,199.9 284.7,199.7 284.9,199.6 285.1,199.5 285.3,199.5 285.5,199.6 285.7,199.8 285.9,199.9 286.1,200.0 286.3,200.1 286.5,200.2 286.7,200.2 286.9,200.2 287.1,200.2 287.3,200.2 287.5,200.1 287.7,200.0 287.9,199.9 288.1,199.8 288.3,199.8 288.5,199.9 288.7,199.9 288.9,200.0 289.1,200.0 289.3,199.9 289.5,199.8 289.7,199.6 289.9,199.5 290.1,199.3 290.3,199.1 290.5,199.0 290.7,198.9 290.9,198.9 291.1,199.1 291.3,199.3 291.5,199.5 291.7,199.8 291.9,199.9 292.1,200.0 292.3,200.1 292.5,200.0 292.7,199.9 292.9,199.8 293.1,199.7 293.3,199.5 293.5,199.3 293.7,199.1 293.9,199.0 294.1,199.1 294.3,199.2 294.5,199.4 294.7,199.7 294.9,200.0 295.1,200.1 295.3,200.0 295.5,199.7 295.7,199.2 295.9,198.5 296.1,197.8 296.3,197.2 296.5,197.0 296.7,197.0 296.9,197.4 297.1,197.8 297.3,198.2 297.5,198.6 297.7,198.9 297.9,199.2 298.1,199.4 298.3,199.7 298.5,199.9 298.7,200.0 298.9,200.1 299.1,200.0 299.3,199.9 299.5,199.8 299.7,199.6 299.9,199.4 300.1,199.0 300.3,198.5 300.5,197.8 300.7,196.9 300.9,195.9 301.1,194.9 301.3,194.0 301.5,193.7 301.7,193.9 301.9,194.5 302.1,195.3 302.3,195.9 302.5,196.2 302.7,195.9 302.9,195.0 303.1,193.6 303.3,191.6 303.5,189.4 303.7,187.2 303.9,185.6 304.1,185.0 304.3,185.6 304.5,187.3 304.7,189.5 304.9,191.7 305.1,193.8 305.3,195.4 305.5,196.6 305.7,197.4 305.9,197.9 306.1,198.1 306.3,198.2 306.5,198.0 306.7,197.6 306.9,197.2 307.1,196.8 307.3,196.6 307.5,196.8 307.7,197.2 307.9,197.7 308.1,198.2 308.3,198.6 308.5,198.9 308.7,199.1 308.9,199.1 309.1,199.1 309.3,199.0 309.5,198.9 309.7,198.9 309.9,199.0 310.1,199.1 310.3,199.2 310.5,199.4 310.7,199.6 310.9,199.7 311.1,199.8 311.3,199.9 311.5,200.0 311.7,200.1 311.9,200.0 312.1,199.9 312.3,199.8 312.5,199.6 312.7,199.5 312.9,199.5 313.1,199.5 313.3,199.6 313.5,199.7 313.7,199.8 313.9,199.8 314.1,199.8 314.3,199.7 314.5,199.6 314.7,199.5 314.9,199.4 315.1,199.4 315.3,199.4 315.5,199.3 315.7,199.3 315.9,199.3 316.1,199.2 316.3,199.0 316.5,198.8 316.7,198.4 316.9,197.8 317.1,197.2 317.3,196.6 317.5,196.1 317.7,196.0 317.9,196.3 318.1,196.8 318.3,197.4 318.5,197.9 318.7,198.4 318.9,198.7 319.1,198.9 319.3,199.1 319.5,199.1 319.7,199.1 319.9,199.2 320.1,199.2 320.3,199.3 320.5,199.3 320.7,199.4 320.9,199.5 321.1,199.6 321.3,199.6 321.5,199.6 321.7,199.6 321.9,199.6 322.1,199.5 322.3,199.4 322.5,199.2 322.7,199.0 322.9,198.6 323.1,198.1 323.3,197.6 323.5,197.0 323.7,196.7 323.9,196.7 324.1,196.9 324.3,197.3 324.5,197.7 324.7,198.0 324.9,198.2 325.1,198.3 325.3,198.4 325.5,198.5 325.7,198.6 325.9,198.8 326.1,198.9 326.3,199.1 326.5,199.3 326.7,199.4 326.9,199.4 327.1,199.5 327.3,199.5 327.5,199.5 327.7,199.6 327.9,199.7 328.1,199.8 328.3,200.0 328.5,200.1 328.7,200.2 328.9,200.3 329.1,200.3 329.3,200.2 329.5,200.1 329.7,199.9 329.9,199.6 330.1,199.5 330.3,199.3 330.5,199.3 330.7,199.3 330.9,199.4 331.1,199.5 331.3,199.6 331.5,199.6 331.7,199.6 331.9,199.6 332.1,199.5 332.3,199.5 332.5,199.4 332.7,199.4 332.9,199.4 333.1,199.4 333.3,199.3 333.5,199.2 333.7,199.1 333.9,198.8 334.1,198.4 334.3,197.9 334.5,197.1 334.7,196.0 334.9,194.7 335.1,193.2 335.3,191.8 335.5,190.7 335.7,190.1 335.9,190.3 336.1,191.1 336.3,192.3 336.5,193.6 336.7,194.7 336.9,195.6 337.1,196.1 337.3,196.4 337.5,196.4 337.7,196.1 337.9,195.5 338.1,194.4 338.3,192.7 338.5,190.2 338.7,187.1 338.9,183.3 339.1,179.0 339.3,174.5 339.5,170.5 339.7,167.6 339.9,166.3 340.1,166.9 340.3,169.0 340.5,172.1 340.7,175.3 340.9,178.1 341.1,180.1 341.3,181.0 341.5,180.7 341.7,179.4 341.9,177.4 342.1,175.3 342.3,173.7 342.5,173.3 342.7,174.2 342.9,176.4 343.1,179.5 343.3,182.9 343.5,186.3 343.7,189.4 343.9,192.0 344.1,194.0 344.3,195.4 344.5,196.4 344.7,197.1 344.9,197.5 345.1,197.6 345.3,197.5 345.5,197.0 345.7,196.3 345.9,195.4 346.1,194.5 346.3,193.9 346.5,193.9 346.7,194.6 346.9,195.6 347.1,196.8 347.3,197.8 347.5,198.6 347.7,199.1 347.9,199.5 348.1,199.6 348.3,199.7 348.5,199.8 348.7,199.9 348.9,199.9 349.1,199.9 349.3,199.9 349.5,199.8 349.7,199.8 349.9,199.8 350.1,199.9 350.3,200.0 350.5,200.0 350.7,200.0 350.9,199.9 351.1,199.8 351.3,199.7 351.5,199.6 351.7,199.6 351.9,199.5 352.1,199.5 352.3,199.6 352.5,199.8 352.7,200.0 352.9,200.1 353.1,200.2 353.3,200.2 353.5,200.2 353.7,200.1 353.9,200.0 354.1,200.0 354.3,199.9 354.5,199.9 354.7,199.9 354.9,199.9 355.1,200.0 355.3,200.1 355.5,200.2 355.7,200.3 355.9,200.3 356.1,200.3 356.3,200.3 356.5,200.2 356.7,200.1 356.9,200.1 357.1,200.0 357.3,200.0 357.5,200.0 357.7,200.0 357.9,200.0 358.1,199.9 358.3,199.7 358.5,199.5 358.7,199.3 358.9,199.1 359.1,198.9 359.3,198.7 359.5,198.5 359.7,198.3 359.9,198.0 360.1,197.7 360.3,197.7 360.5,197.8 360.7,198.1 360.9,198.6 361.1,199.0 361.3,199.4 361.5,199.7 361.7,199.9 361.9,200.0 362.1,200.0 362.3,199.9 362.5,199.9 362.7,199.8 362.9,199.8 363.1,199.8 363.3,199.9 363.5,200.1 363.7,200.4 363.9,200.6 364.1,200.8 364.3,200.8 364.5,200.7 364.7,200.6 364.9,200.5 365.1,200.4 365.3,200.3 365.5,200.2 365.7,200.1 365.9,200.1 366.1,200.0 366.3,200.0 366.5,200.0 366.7,200.0 366.9,200.0 367.1,200.0 367.3,200.1 367.5,200.2 367.7,200.3 367.9,200.4 368.1,200.4 368.3,200.5 368.5,200.6 368.7,200.6 368.9,200.6 369.1,200.6 369.3,200.4 369.5,200.3 369.7,200.2 369.9,200.2 370.1,200.2 370.3,200.2 370.5,200.3 370.7,200.1 370.9,199.8 371.1,199.1 371.3,198.1 371.5,196.6 371.7,194.6 371.9,192.4 372.1,190.1 372.3,188.0 372.5,186.8 372.7,186.8 372.9,187.9 373.1,189.8 373.3,192.0 373.5,194.2 373.7,196.1 373.9,197.5 374.1,198.5 374.3,199.1 374.5,199.4 374.7,199.6 374.9,199.7 375.1,199.7 375.3,199.6 375.5,199.6 375.7,199.5 375.9,199.4 376.1,199.3 376.3,199.2 376.5,199.2 376.7,199.2 376.9,199.3 377.1,199.4 377.3,199.5 377.5,199.6 377.7,199.6 377.9,199.6 378.1,199.6 378.3,199.6 378.5,199.6 378.7,199.6 378.9,199.6 379.1,199.6 379.3,199.5 379.5,199.5 379.7,199.5 379.9,199.4 380.1,199.3 380.3,199.2 380.5,199.2 380.7,199.4 380.9,199.6 381.1,199.8 381.3,200.1 381.5,200.3 381.7,200.5 381.9,200.5 382.1,200.5 382.3,200.4 382.5,200.3 382.7,200.2 382.9,200.1 383.1,200.1 383.3,200.1 383.5,200.2 383.7,200.2 383.9,200.2 384.1,200.2 384.3,200.2 384.5,200.2 384.7,200.1 384.9,200.1 385.1,200.0 385.3,199.9 385.5,199.9 385.7,199.8 385.9,199.9 386.1,200.0 386.3,200.1 386.5,200.2 386.7,200.3 386.9,200.4 387.1,200.4 387.3,200.4 387.5,200.4 387.7,200.5 387.9,200.5 388.1,200.4 388.3,200.3 388.5,200.2 388.7,200.1 388.9,199.9 389.1,199.8 389.3,199.7 389.5,199.5 389.7,199.4 389.9,199.2 390.1,199.0 390.3,198.8 390.5,198.7 390.7,198.6 390.9,198.5 391.1,198.4 391.3,198.3 391.5,198.2 391.7,198.1 391.9,198.1 392.1,198.0 392.3,198.0 392.5,198.0 392.7,197.9 392.9,197.8 393.1,197.7 393.3,197.5 393.5,197.3 393.7,197.1 393.9,196.9 394.1,196.7 394.3,196.6 394.5,196.5 394.7,196.5 394.9,196.6 395.1,196.7 395.3,197.0 395.5,197.2 395.7,197.6 395.9,198.0 396.1,198.4 396.3,198.8 396.5,199.1 396.7,199.4 396.9,199.6 397.1,199.8 397.3,199.9 397.5,200.0 397.7,200.0 397.9,199.9 398.1,199.7 398.3,199.4 398.5,199.2 398.7,198.9 398.9,198.8 399.1,198.7 399.3,198.9 399.5,199.2 399.7,199.5 399.9,199.8 400.1,200.1 400.3,200.2 400.5,200.1 400.7,200.0 400.9,199.9 401.1,199.8 401.3,199.8 401.5,199.9 401.7,200.0 401.9,200.1 402.1,200.2 402.3,200.3 402.5,200.4 402.7,200.5 402.9,200.7 403.1,200.7 403.3,200.7 403.5,200.6 403.7,200.5 403.9,200.3 404.1,200.1 404.3,199.8 404.5,199.6 404.7,199.4 404.9,199.3 405.1,199.2 405.3,199.1 405.5,199.1 405.7,199.0 405.9,199.1 406.1,199.1 406.3,199.2 406.5,199.2 406.7,199.3 406.9,199.3 407.1,199.3 407.3,199.3 407.5,199.3 407.7,199.2 407.9,199.2 408.1,199.2 408.3,199.2 408.5,199.3 408.7,199.4 408.9,199.6 409.1,199.7 409.3,199.7 409.5,199.7 409.7,199.5 409.9,199.2 410.1,198.7 410.3,198.0 410.5,197.1 410.7,196.1 410.9,195.1 411.1,194.2 411.3,193.7 411.5,193.6 411.7,194.2 411.9,195.0 412.1,196.1 412.3,197.1 412.5,198.0 412.7,198.7 412.9,199.2 413.1,199.6 413.3,199.8 413.5,199.9 413.7,199.9 413.9,199.9 414.1,199.7 414.3,199.5 414.5,199.3 414.7,198.9 414.9,198.4 415.1,197.6 415.3,196.6 415.5,195.3 415.7,193.5 415.9,191.1 416.1,188.4 416.3,185.3 416.5,182.1 416.7,179.3 416.9,177.3 417.1,176.6 417.3,177.3 417.5,179.2 417.7,181.9 417.9,185.0 418.1,188.1 418.3,191.0 418.5,193.4 418.7,195.4 418.9,196.9 419.1,198.0 419.3,198.7 419.5,199.1 419.7,199.3 419.9,199.4 420.1,199.4 420.3,199.4 420.5,199.3 420.7,199.4 420.9,199.4 421.1,199.5 421.3,199.5 421.5,199.6 421.7,199.7 421.9,199.8 422.1,199.8 422.3,199.8 422.5,199.9 422.7,200.0 422.9,200.0 423.1,200.1 423.3,200.3 423.5,200.4 423.7,200.5 423.9,200.6 424.1,200.6 424.3,200.6 424.5,200.5 424.7,200.4 424.9,200.3 425.1,200.1 425.3,200.0 425.5,199.9 425.7,199.9 425.9,199.8 426.1,199.7 426.3,199.7 426.5,199.7 426.7,199.8 426.9,199.9 427.1,200.0 427.3,200.0 427.5,200.0 427.7,200.0 427.9,199.9 428.1,199.6 428.3,199.2 428.5,198.6 428.7,198.0 428.9,197.4 429.1,196.8 429.3,196.3 429.5,195.8 429.7,195.6 429.9,195.5 430.1,195.7 430.3,195.9 430.5,196.3 430.7,196.6 430.9,196.8 431.1,196.9 431.3,196.8 431.5,196.6 431.7,196.2 431.9,195.9 432.1,195.6 432.3,195.6 432.5,195.8 432.7,196.2 432.9,196.7 433.1,197.3 433.3,197.9 433.5,198.3 433.7,198.7 433.9,199.0 434.1,199.1 434.3,199.2 434.5,199.3 434.7,199.4 434.9,199.5 435.1,199.6 435.3,199.6 435.5,199.6 435.7,199.7 435.9,199.7 436.1,199.8 436.3,199.8 436.5,199.9 436.7,199.9 436.9,199.8 437.1,199.7 437.3,199.6 437.5,199.5 437.7,199.4 437.9,199.3 438.1,199.2 438.3,199.2 438.5,199.2 438.7,199.3 438.9,199.4 439.1,199.5 439.3,199.5 439.5,199.4 439.7,199.1 439.9,198.5 440.1,197.8 440.3,196.9 440.5,195.9 440.7,194.9 440.9,193.8 441.1,192.8 441.3,192.0 441.5,191.4 441.7,191.2 441.9,191.4 442.1,191.9 442.3,192.6 442.5,193.2 442.7,193.8 442.9,194.3 443.1,194.5 443.3,194.5 443.5,194.4 443.7,194.2 443.9,194.1 444.1,194.2 444.3,194.6 444.5,195.2 444.7,196.1 444.9,196.9 445.1,197.7 445.3,198.4 445.5,199.0 445.7,199.4 445.9,199.6 446.1,199.8 446.3,199.9 446.5,200.0 446.7,200.0 446.9,200.0 447.1,200.0 447.3,199.9 447.5,199.9 447.7,199.8 447.9,199.7 448.1,199.5 448.3,199.3 448.5,199.2 448.7,199.0 448.9,199.0 449.1,199.0 449.3,199.2 449.5,199.3 449.7,199.6 449.9,199.8 450.1,200.0 450.3,200.1 450.5,200.1 450.7,200.1 450.9,199.9 451.1,199.6 451.3,199.2 451.5,198.8 451.7,198.4 451.9,198.0 452.1,197.6 452.3,197.2 452.5,197.0 452.7,197.1 452.9,197.2 453.1,197.6 453.3,197.9 453.5,198.2 453.7,198.5 453.9,198.6 454.1,198.8 454.3,199.0 454.5,199.3 454.7,199.6 454.9,199.9 455.1,200.1 455.3,200.3 455.5,200.4 455.7,200.3 455.9,200.2 456.1,200.1 456.3,199.9 456.5,199.8 456.7,199.8 456.9,199.7 457.1,199.8" fill="none" stroke="#ff2020" stroke-width="1.25" stroke-linejoin="round"/>
<polyline points="13.5,105.5 13.7,105.5 13.9,105.4 14.1,105.4 14.3,105.4 14.5,105.4 14.7,105.4 14.9,105.4 15.1,105.4 15.3,105.4 15.5,105.4 15.7,105.4 15.9,105.4 16.1,105.4 16.3,105.4 16.5,105.4 16.7,105.4 16.9,105.4 17.1,105.5 17.3,105.5 17.5,105.6 17.7,105.6 17.9,105.6 18.1,105.6 18.3,105.6 18.5,105.5 18.7,105.5 18.9,105.4 19.1,105.3 19.3,105.3 19.5,105.3 19.7,105.3 19.9,105.2 20.1,105.3 20.3,105.3 20.5,105.4 20.7,105.4 20.9,105.5 21.1,105.5 21.3,105.6 21.5,105.6 21.7,105.6 21.9,105.6 22.1,105.6 22.3,105.6 22.5,105.7 22.7,105.7 22.9,105.7 23.1,105.7 23.3,105.6 23.5,105.6 23.7,105.5 23.9,105.5 24.1,105.5 24.3,105.6 24.5,105.6 24.7,105.7 24.9,105.7 25.1,105.7 25.3,105.7 25.5,105.7 25.7,105.7 25.9,105.7 26.1,105.8 26.3,105.8 26.5,105.8 26.7,105.8 26.9,105.7 27.1,105.7 27.3,105.6 27.5,105.5 27.7,105.4 27.9,105.4 28.1,105.4 28.3,105.4 28.5,105.4 28.7,105.5 28.9,105.5 29.1,105.5 29.3,105.6 29.5,105.6 29.7,105.6 29.9,105.6 30.1,105.6 30.3,105.6 30.5,105.6 30.7,105.6 30.9,105.6 31.1,105.7 31.3,105.7 31.5,105.7 31.7,105.6 31.9,105.6 32.1,105.5 32.3,105.5 32.5,105.5 32.7,105.5 32.9,105.5 33.1,105.5 33.3,105.6 33.5,105.6 33.7,105.6 33.9,105.6 34.1,105.6 34.3,105.5 34.5,105.5 34.7,105.4 34.9,105.4 35.1,105.4 35.3,105.4 35.5,105.4 35.7,105.4 35.9,105.4 36.1,105.3 36.3,105.3 36.5,105.3 36.7,105.4 36.9,105.4 37.1,105.5 37.3,105.5 37.5,105.6 37.7,105.6 37.9,105.7 38.1,105.7 38.3,105.7 38.5,105.7 38.7,105.7 38.9,105.6 39.1,105.6 39.3,105.5 39.5,105.4 39.7,105.4 39.9,105.4 40.1,105.4 40.3,105.4 40.5,105.4 40.7,105.4 40.9,105.4 41.1,105.3 41.3,105.2 41.5,105.1 41.7,104.9 41.9,104.8 42.1,104.7 42.3,104.8 42.5,105.0 42.7,105.2 42.9,105.3 43.1,105.4 43.3,105.5 43.5,105.5 43.7,105.5 43.9,105.6 44.1,105.6 44.3,105.6 44.5,105.5 44.7,105.5 44.9,105.4 45.1,105.3 45.3,105.3 45.5,105.3 45.7,105.3 45.9,105.3 46.1,105.4 46.3,105.5 46.5,105.5 46.7,105.6 46.9,105.6 47.1,105.5 47.3,105.5 47.5,105.3 47.7,105.1 47.9,104.8 48.1,104.3 48.3,103.8 48.5,103.3 48.7,102.9 48.9,102.8 49.1,103.1 49.3,103.6 49.5,104.1 49.7,104.6 49.9,105.0 50.1,105.2 50.3,105.4 50.5,105.5 50.7,105.5 50.9,105.6 51.1,105.7 51.3,105.7 51.5,105.8 51.7,105.8 51.9,105.8 52.1,105.8 52.3,105.8 52.5,105.7 52.7,105.7 52.9,105.7 53.1,105.7 53.3,105.7 53.5,105.6 53.7,105.6 53.9,105.5 54.1,105.4 54.3,105.3 54.5,105.2 54.7,105.1 54.9,105.2 55.1,105.2 55.3,105.3 55.5,105.3 55.7,105.4 55.9,105.4 56.1,105.5 56.3,105.5 56.5,105.6 56.7,105.6 56.9,105.7 57.1,105.8 57.3,105.8 57.5,105.9 57.7,105.9 57.9,105.8 58.1,105.8 58.3,105.7 58.5,105.6 58.7,105.6 58.9,105.5 59.1,105.5 59.3,105.5 59.5,105.6 59.7,105.6 59.9,105.6 60.1,105.5 60.3,105.4 60.5,105.3 60.7,105.3 60.9,105.2 61.1,105.2 61.3,105.2 61.5,105.2 61.7,105.3 61.9,105.3 62.1,105.3 62.3,105.4 62.5,105.4 62.7,105.5 62.9,105.5 63.1,105.4 63.3,105.4 63.5,105.4 63.7,105.4 63.9,105.4 64.1,105.5 64.3,105.5 64.5,105.6 64.7,105.6 64.9,105.6 65.1,105.6 65.3,105.5 65.5,105.5 65.7,105.5 65.9,105.5 66.1,105.5 66.3,105.6 66.5,105.6 66.7,105.7 66.9,105.7 67.1,105.7 67.3,105.7 67.5,105.7 67.7,105.7 67.9,105.7 68.1,105.6 68.3,105.5 68.5,105.5 68.7,105.5 68.9,105.5 69.1,105.5 69.3,105.5 69.5,105.5 69.7,105.6 69.9,105.6 70.1,105.6 70.3,105.6 70.5,105.5 70.7,105.5 70.9,105.5 71.1,105.4 71.3,105.4 71.5,105.4 71.7,105.4 71.9,105.4 72.1,105.5 72.3,105.5 72.5,105.5 72.7,105.5 72.9,105.6 73.1,105.6 73.3,105.5 73.5,105.5 73.7,105.5 73.9,105.4 74.1,105.4 74.3,105.5 74.5,105.5 74.7,105.5 74.9,105.6 75.1,105.6 75.3,105.7 75.5,105.8 75.7,105.8 75.9,105.9 76.1,105.9 76.3,105.9 76.5,105.8 76.7,105.7 76.9,105.6 77.1,105.5 77.3,105.4 77.5,105.4 77.7,105.4 77.9,105.4 78.1,105.5 78.3,105.5 78.5,105.6 78.7,105.7 78.9,105.7 79.1,105.7 79.3,105.7 79.5,105.7 79.7,105.6 79.9,105.5 80.1,105.4 80.3,105.2 80.5,105.1 80.7,105.0 80.9,104.9 81.1,104.9 81.3,104.9 81.5,105.1 81.7,105.2 81.9,105.3 82.1,105.4 82.3,105.4 82.5,105.5 82.7,105.5 82.9,105.5 83.1,105.5 83.3,105.5 83.5,105.5 83.7,105.6 83.9,105.5 84.1,105.5 84.3,105.4 84.5,105.4 84.7,105.3 84.9,105.3 85.1,105.3 85.3,105.3 85.5,105.2 85.7,105.2 85.9,105.2 86.1,105.2 86.3,105.1 86.5,104.9 86.7,104.6 86.9,104.2 87.1,103.8 87.3,103.3 87.5,102.9 87.7,102.8 87.9,103.1 88.1,103.5 88.3,104.1 88.5,104.6 88.7,105.0 88.9,105.2 89.1,105.3 89.3,105.3 89.5,105.3 89.7,105.3 89.9,105.3 90.1,105.3 90.3,105.3 90.5,105.3 90.7,105.3 90.9,105.3 91.1,105.3 91.3,105.3 91.5,105.3 91.7,105.4 91.9,105.4 92.1,105.4 92.3,105.4 92.5,105.5 92.7,105.5 92.9,105.5 93.1,105.6 93.3,105.6 93.5,105.6 93.7,105.6 93.9,105.5 94.1,105.5 94.3,105.4 94.5,105.4 94.7,105.4 94.9,105.5 95.1,105.5 95.3,105.6 95.5,105.6 95.7,105.6 95.9,105.6 96.1,105.5 96.3,105.3 96.5,105.3 96.7,105.2 96.9,105.3 97.1,105.3 97.3,105.4 97.5,105.4 97.7,105.5 97.9,105.6 98.1,105.6 98.3,105.6 98.5,105.6 98.7,105.6 98.9,105.6 99.1,105.7 99.3,105.7 99.5,105.8 99.7,105.8 99.9,105.8 100.1,105.8 100.3,105.8 100.5,105.8 100.7,105.8 100.9,105.8 101.1,105.8 101.3,105.7 101.5,105.6 101.7,105.6 101.9,105.5 102.1,105.5 102.3,105.5 102.5,105.5 102.7,105.6 102.9,105.6 103.1,105.6 103.3,105.7 103.5,105.7 103.7,105.7 103.9,105.6 104.1,105.6 104.3,105.5 104.5,105.5 104.7,105.4 104.9,105.4 105.1,105.4 105.3,105.4 105.5,105.4 105.7,105.5 105.9,105.5 106.1,105.6 106.3,105.7 106.5,105.7 106.7,105.7 106.9,105.8 107.1,105.8 107.3,105.7 107.5,105.7 107.7,105.6 107.9,105.6 108.1,105.5 108.3,105.4 108.5,105.3 108.7,105.2 108.9,105.2 109.1,105.2 109.3,105.3 109.5,105.3 109.7,105.4 109.9,105.6 110.1,105.7 110.3,105.8 110.5,105.9 110.7,105.9 110.9,105.9 111.1,105.8 111.3,105.7 111.5,105.6 111.7,105.5 111.9,105.4 112.1,105.3 112.3,105.2 112.5,105.1 112.7,105.1 112.9,105.0 113.1,105.0 113.3,105.1 113.5,105.1 113.7,105.1 113.9,105.2 114.1,105.3 114.3,105.3 114.5,105.4 114.7,105.4 114.9,105.5 115.1,105.5 115.3,105.6 115.5,105.6 115.7,105.6 115.9,105.5 116.1,105.5 116.3,105.5 116.5,105.5 116.7,105.5 116.9,105.6 117.1,105.7 117.3,105.7 117.5,105.8 117.7,105.8 117.9,105.9 118.1,105.9 118.3,105.9 118.5,105.9 118.7,105.9 118.9,105.9 119.1,105.8 119.3,105.8 119.5,105.7 119.7,105.7 119.9,105.6 120.1,105.5 120.3,105.4 120.5,105.4 120.7,105.3 120.9,105.3 121.1,105.2 121.3,105.2 121.5,105.1 121.7,105.1 121.9,105.1 122.1,105.1 122.3,105.1 122.5,105.2 122.7,105.2 122.9,105.3 123.1,105.3 123.3,105.3 123.5,105.3 123.7,105.3 123.9,105.3 124.1,105.3 124.3,105.3 124.5,105.3 124.7,105.2 124.9,105.0 125.1,104.6 125.3,104.2 125.5,103.6 125.7,103.2 125.9,103.0 126.1,103.2 126.3,103.7 126.5,104.2 126.7,104.7 126.9,105.0 127.1,105.2 127.3,105.3 127.5,105.3 127.7,105.4 127.9,105.4 128.1,105.3 128.3,105.1 128.5,104.8 128.7,104.2 128.9,103.5 129.1,102.7 129.3,101.9 129.5,101.3 129.7,101.3 129.9,101.8 130.1,102.6 130.3,103.4 130.5,104.1 130.7,104.6 130.9,104.9 131.1,105.0 131.3,105.1 131.5,105.2 131.7,105.3 131.9,105.5 132.1,105.6 132.3,105.7 132.5,105.7 132.7,105.7 132.9,105.7 133.1,105.6 133.3,105.5 133.5,105.4 133.7,105.3 133.9,105.3 134.1,105.2 134.3,105.2 134.5,105.2 134.7,105.3 134.9,105.4 135.1,105.5 135.3,105.5 135.5,105.5 135.7,105.5 135.9,105.5 136.1,105.4 136.3,105.3 136.5,105.3 136.7,105.3 136.9,105.3 137.1,105.4 137.3,105.4 137.5,105.4 137.7,105.5 137.9,105.5 138.1,105.6 138.3,105.6 138.5,105.6 138.7,105.6 138.9,105.5 139.1,105.5 139.3,105.4 139.5,105.4 139.7,105.4 139.9,105.4 140.1,105.4 140.3,105.4 140.5,105.4 140.7,105.4 140.9,105.4 141.1,105.5 141.3,105.5 141.5,105.5 141.7,105.5 141.9,105.4 142.1,105.4 142.3,105.3 142.5,105.3 142.7,105.3 142.9,105.3 143.1,105.4 143.3,105.5 143.5,105.7 143.7,105.7 143.9,105.8 144.1,105.8 144.3,105.7 144.5,105.6 144.7,105.5 144.9,105.4 145.1,105.3 145.3,105.2 145.5,105.1 145.7,105.1 145.9,105.1 146.1,105.1 146.3,105.2 146.5,105.3 146.7,105.3 146.9,105.3 147.1,105.3 147.3,105.3 147.5,105.4 147.7,105.4 147.9,105.4 148.1,105.4 148.3,105.5 148.5,105.5 148.7,105.5 148.9,105.5 149.1,105.5 149.3,105.5 149.5,105.5 149.7,105.6 149.9,105.6 150.1,105.6 150.3,105.7 150.5,105.7 150.7,105.6 150.9,105.6 151.1,105.5 151.3,105.5 151.5,105.4 151.7,105.4 151.9,105.4 152.1,105.4 152.3,105.4 152.5,105.4 152.7,105.5 152.9,105.5 153.1,105.4 153.3,105.4 153.5,105.4 153.7,105.5 153.9,105.5 154.1,105.4 154.3,105.4 154.5,105.3 154.7,105.3 154.9,105.2 155.1,105.1 155.3,105.1 155.5,105.1 155.7,105.1 155.9,105.2 156.1,105.3 156.3,105.3 156.5,105.4 156.7,105.4 156.9,105.4 157.1,105.3 157.3,105.2 157.5,105.2 157.7,105.1 157.9,105.1 158.1,105.1 158.3,105.1 158.5,105.2 158.7,105.2 158.9,105.3 159.1,105.4 159.3,105.4 159.5,105.4 159.7,105.4 159.9,105.2 160.1,105.0 160.3,104.7 160.5,104.2 160.7,103.5 160.9,102.6 161.1,101.5 161.3,100.2 161.5,99.0 161.7,98.3 161.9,98.3 162.1,99.0 162.3,100.2 162.5,101.3 162.7,102.4 162.9,103.1 163.1,103.5 163.3,103.7 163.5,103.7 163.7,103.5 163.9,103.2 164.1,102.7 164.3,101.8 164.5,100.3 164.7,97.3 164.9,91.8 165.1,82.3 165.3,68.3 165.5,50.5 165.7,32.4 165.9,20.3 166.1,20.3 166.3,32.3 166.5,50.4 166.7,68.2 166.9,82.2 167.1,91.7 167.3,97.2 167.5,100.2 167.7,101.8 167.9,102.6 168.1,103.1 168.3,103.3 168.5,103.5 168.7,103.5 168.9,103.5 169.1,103.5 169.3,103.4 169.5,103.1 169.7,102.4 169.9,101.2 170.1,99.2 170.3,96.3 170.5,92.6 170.7,88.8 170.9,85.6 171.1,84.4 171.3,85.7 171.5,88.9 171.7,92.9 171.9,96.6 172.1,99.6 172.3,101.7 172.5,103.1 172.7,103.8 172.9,104.2 173.1,104.4 173.3,104.6 173.5,104.6 173.7,104.6 173.9,104.6 174.1,104.5 174.3,104.3 174.5,104.0 174.7,103.4 174.9,102.4 175.1,100.9 175.3,99.0 175.5,96.9 175.7,95.3 175.9,94.6 176.1,95.3 176.3,97.1 176.5,99.1 176.7,101.1 176.9,102.6 177.1,103.7 177.3,104.3 177.5,104.7 177.7,104.9 177.9,104.9 178.1,105.0 178.3,105.0 178.5,105.1 178.7,105.2 178.9,105.2 179.1,105.2 179.3,105.3 179.5,105.3 179.7,105.3 179.9,105.4 180.1,105.4 180.3,105.4 180.5,105.5 180.7,105.5 180.9,105.5 181.1,105.6 181.3,105.6 181.5,105.6 181.7,105.6 181.9,105.6 182.1,105.6 182.3,105.5 182.5,105.5 182.7,105.5 182.9,105.5 183.1,105.5 183.3,105.5 183.5,105.5 183.7,105.6 183.9,105.7 184.1,105.8 184.3,105.8 184.5,105.8 184.7,105.8 184.9,105.7 185.1,105.6 185.3,105.5 185.5,105.4 185.7,105.3 185.9,105.3 186.1,105.2 186.3,105.2 186.5,105.3 186.7,105.3 186.9,105.4 187.1,105.4 187.3,105.5 187.5,105.5 187.7,105.5 187.9,105.6 188.1,105.6 188.3,105.6 188.5,105.5 188.7,105.5 188.9,105.4 189.1,105.4 189.3,105.4 189.5,105.3 189.7,105.2 189.9,105.1 190.1,105.0 190.3,104.8 190.5,104.5 190.7,103.9 190.9,102.9 191.1,101.4 191.3,99.1 191.5,96.4 191.7,93.4 191.9,91.1 192.1,90.1 192.3,91.0 192.5,93.3 192.7,96.2 192.9,99.0 193.1,101.2 193.3,102.7 193.5,103.8 193.7,104.4 193.9,104.8 194.1,105.0 194.3,105.2 194.5,105.3 194.7,105.4 194.9,105.5 195.1,105.5 195.3,105.5 195.5,105.5 195.7,105.5 195.9,105.5 196.1,105.5 196.3,105.5 196.5,105.5 196.7,105.4 196.9,105.4 197.1,105.4 197.3,105.4 197.5,105.4 197.7,105.4 197.9,105.4 198.1,105.4 198.3,105.4 198.5,105.4 198.7,105.4 198.9,105.4 199.1,105.4 199.3,105.5 199.5,105.5 199.7,105.5 199.9,105.5 200.1,105.5 200.3,105.5 200.5,105.5 200.7,105.5 200.9,105.6 201.1,105.6 201.3,105.7 201.5,105.7 201.7,105.7 201.9,105.7 202.1,105.6 202.3,105.6 202.5,105.6 202.7,105.5 202.9,105.5 203.1,105.5 203.3,105.5 203.5,105.5 203.7,105.5 203.9,105.5 204.1,105.5 204.3,105.5 204.5,105.6 204.7,105.6 204.9,105.6 205.1,105.6 205.3,105.6 205.5,105.5 205.7,105.4 205.9,105.3 206.1,105.3 206.3,105.2 206.5,105.2 206.7,105.2 206.9,105.2 207.1,105.2 207.3,105.2 207.5,105.2 207.7,105.2 207.9,105.1 208.1,105.1 208.3,105.1 208.5,105.1 208.7,105.1 208.9,105.2 209.1,105.2 209.3,105.2 209.5,105.3 209.7,105.3 209.9,105.3 210.1,105.3 210.3,105.3 210.5,105.3 210.7,105.3 210.9,105.3 211.1,105.2 211.3,105.2 211.5,105.2 211.7,105.1 211.9,105.0 212.1,104.8 212.3,104.5 212.5,103.9 212.7,102.9 212.9,101.5 213.1,99.6 213.3,97.1 213.5,94.4 213.7,91.9 213.9,90.4 214.1,90.4 214.3,91.9 214.5,94.4 214.7,97.2 214.9,99.7 215.1,101.7 215.3,103.1 215.5,104.0 215.7,104.5 215.9,104.8 216.1,105.0 216.3,105.0 216.5,105.0 216.7,105.0 216.9,104.9 217.1,104.9 217.3,104.9 217.5,105.0 217.7,105.1 217.9,105.2 218.1,105.3 218.3,105.5 218.5,105.5 218.7,105.6 218.9,105.6 219.1,105.6 219.3,105.6 219.5,105.6 219.7,105.6 219.9,105.6 220.1,105.7 220.3,105.7 220.5,105.7 220.7,105.6 220.9,105.6 221.1,105.5 221.3,105.4 221.5,105.4 221.7,105.3 221.9,105.3 222.1,105.3 222.3,105.3 222.5,105.4 222.7,105.4 222.9,105.4 223.1,105.4 223.3,105.4 223.5,105.3 223.7,105.3 223.9,105.4 224.1,105.4 224.3,105.6 224.5,105.7 224.7,105.7 224.9,105.7 225.1,105.7 225.3,105.7 225.5,105.6 225.7,105.5 225.9,105.4 226.1,105.4 226.3,105.3 226.5,105.3 226.7,105.2 226.9,105.2 227.1,105.2 227.3,105.3 227.5,105.4 227.7,105.6 227.9,105.7 228.1,105.8 228.3,105.8 228.5,105.8 228.7,105.8 228.9,105.7 229.1,105.7 229.3,105.6 229.5,105.6 229.7,105.6 229.9,105.6 230.1,105.6 230.3,105.6 230.5,105.6 230.7,105.5 230.9,105.5 231.1,105.5 231.3,105.5 231.5,105.5 231.7,105.5 231.9,105.5 232.1,105.6 232.3,105.6 232.5,105.6 232.7,105.6 232.9,105.6 233.1,105.6 233.3,105.6 233.5,105.6 233.7,105.5 233.9,105.4 234.1,105.3 234.3,105.3 234.5,105.2 234.7,105.2 234.9,105.3 235.1,105.3 235.3,105.4 235.5,105.4 235.7,105.5 235.9,105.5 236.1,105.4 236.3,105.4 236.5,105.3 236.7,105.3 236.9,105.3 237.1,105.3 237.3,105.3 237.5,105.3 237.7,105.3 237.9,105.2 238.1,105.2 238.3,105.1 238.5,105.0 238.7,104.8 238.9,104.4 239.1,103.8 239.3,103.0 239.5,101.9 239.7,100.6 239.9,99.3 240.1,98.2 240.3,97.8 240.5,98.2 240.7,99.3 240.9,100.6 241.1,101.9 241.3,103.0 241.5,103.9 241.7,104.4 241.9,104.7 242.1,104.9 242.3,105.0 242.5,105.0 242.7,105.1 242.9,105.1 243.1,105.1 243.3,105.2 243.5,105.3 243.7,105.4 243.9,105.5 244.1,105.5 244.3,105.6 244.5,105.6 244.7,105.5 244.9,105.5 245.1,105.5 245.3,105.4 245.5,105.4 245.7,105.3 245.9,105.3 246.1,105.2 246.3,105.2 246.5,105.2 246.7,105.2 246.9,105.2 247.1,105.3 247.3,105.4 247.5,105.4 247.7,105.5 247.9,105.5 248.1,105.4 248.3,105.3 248.5,105.2 248.7,105.2 248.9,105.1 249.1,105.1 249.3,105.2 249.5,105.2 249.7,105.3 249.9,105.4 250.1,105.5 250.3,105.5 250.5,105.6 250.7,105.6 250.9,105.5 251.1,105.5 251.3,105.5 251.5,105.5 251.7,105.5 251.9,105.5 252.1,105.5 252.3,105.5 252.5,105.4 252.7,105.4 252.9,105.3 253.1,105.3 253.3,105.4 253.5,105.4 253.7,105.5 253.9,105.6 254.1,105.6 254.3,105.7 254.5,105.8 254.7,105.8 254.9,105.9 255.1,105.8 255.3,105.8 255.5,105.7 255.7,105.6 255.9,105.5 256.1,105.4 256.3,105.3 256.5,105.4 256.7,105.4 256.9,105.5 257.1,105.5 257.3,105.6 257.5,105.6 257.7,105.7 257.9,105.7 258.1,105.8 258.3,105.8 258.5,105.9 258.7,105.9 258.9,106.0 259.1,106.0 259.3,106.1 259.5,106.1 259.7,106.1 259.9,106.0 260.1,105.9 260.3,105.7 260.5,105.6 260.7,105.5 260.9,105.4 261.1,105.4 261.3,105.4 261.5,105.4 261.7,105.5 261.9,105.5 262.1,105.6 262.3,105.6 262.5,105.6 262.7,105.6 262.9,105.6 263.1,105.5 263.3,105.5 263.5,105.5 263.7,105.5 263.9,105.5 264.1,105.5 264.3,105.5 264.5,105.6 264.7,105.6 264.9,105.7 265.1,105.7 265.3,105.7 265.5,105.7 265.7,105.7 265.9,105.7 266.1,105.7 266.3,105.6 266.5,105.6 266.7,105.6 266.9,105.5 267.1,105.4 267.3,105.4 267.5,105.4 267.7,105.3 267.9,105.3 268.1,105.4 268.3,105.5 268.5,105.6 268.7,105.7 268.9,105.8 269.1,105.8 269.3,105.8 269.5,105.7 269.7,105.6 269.9,105.5 270.1,105.4 270.3,105.4 270.5,105.4 270.7,105.4 270.9,105.5 271.1,105.5 271.3,105.6 271.5,105.6 271.7,105.6 271.9,105.5 272.1,105.5 272.3,105.5 272.5,105.5 272.7,105.5 272.9,105.5 273.1,105.5 273.3,105.5 273.5,105.5 273.7,105.5 273.9,105.5 274.1,105.4 274.3,105.4 274.5,105.4 274.7,105.4 274.9,105.4 275.1,105.4 275.3,105.5 275.5,105.5 275.7,105.6 275.9,105.6 276.1,105.7 276.3,105.7 276.5,105.7 276.7,105.7 276.9,105.7 277.1,105.7 277.3,105.7 277.5,105.7 277.7,105.7 277.9,105.7 278.1,105.7 278.3,105.7 278.5,105.7 278.7,105.7 278.9,105.7 279.1,105.6 279.3,105.6 279.5,105.6 279.7,105.6 279.9,105.6 280.1,105.6 280.3,105.5 280.5,105.5 280.7,105.4 280.9,105.3 281.1,105.2 281.3,105.0 281.5,104.9 281.7,104.7 281.9,104.6 282.1,104.5 282.3,104.6 282.5,104.7 282.7,104.9 282.9,105.1 283.1,105.2 283.3,105.4 283.5,105.4 283.7,105.4 283.9,105.3 284.1,105.2 284.3,105.2 284.5,105.2 284.7,105.3 284.9,105.3 285.1,105.4 285.3,105.5 285.5,105.5 285.7,105.6 285.9,105.6 286.1,105.6 286.3,105.7 286.5,105.7 286.7,105.7 286.9,105.8 287.1,105.8 287.3,105.8 287.5,105.7 287.7,105.7 287.9,105.6 288.1,105.6 288.3,105.5 288.5,105.5 288.7,105.5 288.9,105.5 289.1,105.4 289.3,105.4 289.5,105.3 289.7,105.3 289.9,105.2 290.1,105.2 290.3,105.3 290.5,105.3 290.7,105.4 290.9,105.4 291.1,105.5 291.3,105.5 291.5,105.5 291.7,105.5 291.9,105.5 292.1,105.5 292.3,105.6 292.5,105.6 292.7,105.7 292.9,105.7 293.1,105.7 293.3,105.7 293.5,105.7 293.7,105.7 293.9,105.7 294.1,105.7 294.3,105.7 294.5,105.7 294.7,105.6 294.9,105.6 295.1,105.6 295.3,105.5 295.5,105.5 295.7,105.4 295.9,105.5 296.1,105.5 296.3,105.6 296.5,105.7 296.7,105.8 296.9,105.9 297.1,106.0 297.3,105.9 297.5,105.9 297.7,105.8 297.9,105.7 298.1,105.6 298.3,105.6 298.5,105.6 298.7,105.6 298.9,105.6 299.1,105.6 299.3,105.5 299.5,105.4 299.7,105.4 299.9,105.4 300.1,105.3 300.3,105.4 300.5,105.4 300.7,105.5 300.9,105.6 301.1,105.7 301.3,105.7 301.5,105.8 301.7,105.7 301.9,105.6 302.1,105.5 302.3,105.3 302.5,105.1 302.7,104.7 302.9,104.3 303.1,103.8 303.3,103.3 303.5,102.9 303.7,102.6 303.9,102.5 304.1,102.6 304.3,102.9 304.5,103.3 304.7,103.7 304.9,104.0 305.1,104.3 305.3,104.5 305.5,104.7 305.7,104.9 305.9,105.0 306.1,105.1 306.3,105.3 306.5,105.4 306.7,105.5 306.9,105.5 307.1,105.5 307.3,105.4 307.5,105.5 307.7,105.5 307.9,105.6 308.1,105.7 308.3,105.8 308.5,105.8 308.7,105.8 308.9,105.8 309.1,105.8 309.3,105.7 309.5,105.6 309.7,105.5 309.9,105.5 310.1,105.4 310.3,105.4 310.5,105.4 310.7,105.4 310.9,105.4 311.1,105.3 311.3,105.3 311.5,105.4 311.7,105.4 311.9,105.5 312.1,105.5 312.3,105.6 312.5,105.6 312.7,105.6 312.9,105.6 313.1,105.6 313.3,105.6 313.5,105.6 313.7,105.6 313.9,105.6 314.1,105.6 314.3,105.5 314.5,105.5 314.7,105.5 314.9,105.5 315.1,105.5 315.3,105.5 315.5,105.5 315.7,105.5 315.9,105.4 316.1,105.3 316.3,105.3 316.5,105.2 316.7,105.1 316.9,105.1 317.1,105.1 317.3,105.1 317.5,105.0 317.7,105.0 317.9,104.9 318.1,104.7 318.3,104.6 318.5,104.6 318.7,104.6 318.9,104.6 319.1,104.7 319.3,104.7 319.5,104.8 319.7,104.8 319.9,104.8 320.1,104.9 320.3,105.1 320.5,105.2 320.7,105.4 320.9,105.5 321.1,105.6 321.3,105.5 321.5,105.4 321.7,105.3 321.9,105.1 322.1,104.9 322.3,104.7 322.5,104.4 322.7,104.0 322.9,103.4 323.1,102.6 323.3,101.7 323.5,100.6 323.7,99.6 323.9,98.8 324.1,98.3 324.3,98.4 324.5,99.1 324.7,100.0 324.9,101.1 325.1,102.2 325.3,103.2 325.5,103.9 325.7,104.5 325.9,104.8 326.1,105.0 326.3,105.1 326.5,105.1 326.7,105.1 326.9,105.1 327.1,105.1 327.3,105.0 327.5,105.1 327.7,105.1 327.9,105.2 328.1,105.2 328.3,105.2 328.5,105.2 328.7,105.3 328.9,105.3 329.1,105.3 329.3,105.3 329.5,105.3 329.7,105.4 329.9,105.4 330.1,105.5 330.3,105.5 330.5,105.5 330.7,105.5 330.9,105.5 331.1,105.4 331.3,105.4 331.5,105.3 331.7,105.2 331.9,105.1 332.1,105.1 332.3,105.0 332.5,105.1 332.7,105.1 332.9,105.2 333.1,105.3 333.3,105.4 333.5,105.4 333.7,105.4 333.9,105.5 334.1,105.5 334.3,105.5 334.5,105.5 334.7,105.4 334.9,105.4 335.1,105.3 335.3,105.2 335.5,105.1 335.7,104.9 335.9,104.7 336.1,104.4 336.3,104.0 336.5,103.6 336.7,103.1 336.9,102.7 337.1,102.4 337.3,102.3 337.5,102.5 337.7,102.9 337.9,103.5 338.1,104.0 338.3,104.5 338.5,104.8 338.7,105.1 338.9,105.2 339.1,105.3 339.3,105.3 339.5,105.4 339.7,105.4 339.9,105.4 340.1,105.4 340.3,105.4 340.5,105.3 340.7,105.2 340.9,105.1 341.1,105.0 341.3,104.9 341.5,104.7 341.7,104.3 341.9,103.6 342.1,102.6 342.3,101.1 342.5,99.2 342.7,97.1 342.9,95.2 343.1,94.0 343.3,94.0 343.5,95.1 343.7,97.0 343.9,99.1 344.1,101.0 344.3,102.5 344.5,103.6 344.7,104.4 344.9,104.8 345.1,105.0 345.3,105.1 345.5,105.2 345.7,105.3 345.9,105.3 346.1,105.3 346.3,105.4 346.5,105.5 346.7,105.5 346.9,105.6 347.1,105.6 347.3,105.5 347.5,105.5 347.7,105.5 347.9,105.4 348.1,105.5 348.3,105.5 348.5,105.6 348.7,105.6 348.9,105.6 349.1,105.6 349.3,105.6 349.5,105.6 349.7,105.5 349.9,105.5 350.1,105.5 350.3,105.5 350.5,105.5 350.7,105.5 350.9,105.6 351.1,105.6 351.3,105.7 351.5,105.7 351.7,105.6 351.9,105.6 352.1,105.5 352.3,105.5 352.5,105.4 352.7,105.4 352.9,105.4 353.1,105.4 353.3,105.4 353.5,105.4 353.7,105.4 353.9,105.4 354.1,105.4 354.3,105.4 354.5,105.5 354.7,105.5 354.9,105.5 355.1,105.5 355.3,105.5 355.5,105.5 355.7,105.4 355.9,105.4 356.1,105.3 356.3,105.2 356.5,105.2 356.7,105.2 356.9,105.2 357.1,105.2 357.3,105.2 357.5,105.2 357.7,105.3 357.9,105.3 358.1,105.4 358.3,105.4 358.5,105.5 358.7,105.6 358.9,105.7 359.1,105.8 359.3,105.8 359.5,105.8 359.7,105.8 359.9,105.8 360.1,105.7 360.3,105.6 360.5,105.5 360.7,105.4 360.9,105.4 361.1,105.3 361.3,105.3 361.5,105.4 361.7,105.4 361.9,105.5 362.1,105.5 362.3,105.5 362.5,105.6 362.7,105.6 362.9,105.7 363.1,105.7 363.3,105.7 363.5,105.6 363.7,105.5 363.9,105.5 364.1,105.4 364.3,105.4 364.5,105.4 364.7,105.4 364.9,105.4 365.1,105.4 365.3,105.4 365.5,105.5 365.7,105.5 365.9,105.4 366.1,105.4 366.3,105.3 366.5,105.3 366.7,105.2 366.9,105.1 367.1,105.1 367.3,105.2 367.5,105.2 367.7,105.3 367.9,105.4 368.1,105.5 368.3,105.5 368.5,105.6 368.7,105.6 368.9,105.6 369.1,105.6 369.3,105.7 369.5,105.7 369.7,105.7 369.9,105.6 370.1,105.6 370.3,105.6 370.5,105.6 370.7,105.6 370.9,105.6 371.1,105.6 371.3,105.6 371.5,105.5 371.7,105.4 371.9,105.1 372.1,104.8 372.3,104.2 372.5,103.6 372.7,102.7 372.9,101.9 373.1,101.2 373.3,100.9 373.5,101.0 373.7,101.6 373.9,102.3 374.1,103.1 374.3,103.8 374.5,104.4 374.7,104.9 374.9,105.2 375.1,105.3 375.3,105.4 375.5,105.4 375.7,105.3 375.9,105.3 376.1,105.3 376.3,105.3 376.5,105.3 376.7,105.4 376.9,105.5 377.1,105.5 377.3,105.5 377.5,105.5 377.7,105.4 377.9,105.3 378.1,105.3 378.3,105.2 378.5,105.2 378.7,105.2 378.9,105.3 379.1,105.3 379.3,105.3 379.5,105.4 379.7,105.4 379.9,105.4 380.1,105.5 380.3,105.5 380.5,105.6 380.7,105.7 380.9,105.7 381.1,105.7 381.3,105.7 381.5,105.7 381.7,105.8 381.9,105.8 382.1,105.8 382.3,105.8 382.5,105.8 382.7,105.7 382.9,105.7 383.1,105.6 383.3,105.5 383.5,105.5 383.7,105.4 383.9,105.4 384.1,105.5 384.3,105.5 384.5,105.6 384.7,105.7 384.9,105.8 385.1,105.8 385.3,105.9 385.5,105.8 385.7,105.8 385.9,105.7 386.1,105.6 386.3,105.5 386.5,105.4 386.7,105.3 386.9,105.3 387.1,105.3 387.3,105.3 387.5,105.2 387.7,105.2 387.9,105.2 388.1,105.2 388.3,105.2 388.5,105.2 388.7,105.3 388.9,105.4 389.1,105.4 389.3,105.5 389.5,105.5 389.7,105.5 389.9,105.5 390.1,105.5 390.3,105.5 390.5,105.5 390.7,105.5 390.9,105.5 391.1,105.5 391.3,105.4 391.5,105.4 391.7,105.3 391.9,105.3 392.1,105.3 392.3,105.3 392.5,105.3 392.7,105.3 392.9,105.4 393.1,105.4 393.3,105.4 393.5,105.4 393.7,105.3 393.9,105.3 394.1,105.3 394.3,105.3 394.5,105.3 394.7,105.2 394.9,105.2 395.1,105.2 395.3,105.2 395.5,105.2 395.7,105.2 395.9,105.1 396.1,105.1 396.3,105.0 396.5,104.9 396.7,104.7 396.9,104.4 397.1,104.1 397.3,103.7 397.5,103.2 397.7,102.8 397.9,102.5 398.1,102.3 398.3,102.2 398.5,102.4 398.7,102.8 398.9,103.2 399.1,103.7 399.3,104.1 399.5,104.5 399.7,104.8 399.9,105.0 400.1,105.1 400.3,105.2 400.5,105.2 400.7,105.2 400.9,105.2 401.1,105.3 401.3,105.3 401.5,105.3 401.7,105.3 401.9,105.3 402.1,105.4 402.3,105.5 402.5,105.5 402.7,105.6 402.9,105.7 403.1,105.7 403.3,105.7 403.5,105.6 403.7,105.5 403.9,105.4 404.1,105.3 404.3,105.3 404.5,105.2 404.7,105.2 404.9,105.1 405.1,105.1 405.3,105.1 405.5,105.0 405.7,105.0 405.9,105.0 406.1,105.0 406.3,105.0 406.5,105.0 406.7,105.1 406.9,105.1 407.1,105.2 407.3,105.2 407.5,105.3 407.7,105.4 407.9,105.4 408.1,105.5 408.3,105.6 408.5,105.6 408.7,105.6 408.9,105.6 409.1,105.6 409.3,105.6 409.5,105.7 409.7,105.7 409.9,105.7 410.1,105.6 410.3,105.5 410.5,105.3 410.7,105.2 410.9,105.1 411.1,105.1 411.3,105.0 411.5,105.0 411.7,104.9 411.9,104.8 412.1,104.6 412.3,104.4 412.5,104.2 412.7,104.0 412.9,103.9 413.1,103.8 413.3,103.7 413.5,103.7 413.7,103.8 413.9,103.9 414.1,104.1 414.3,104.3 414.5,104.6 414.7,104.8 414.9,105.0 415.1,105.1 415.3,105.2 415.5,105.3 415.7,105.3 415.9,105.2 416.1,105.1 416.3,104.9 416.5,104.6 416.7,104.3 416.9,103.9 417.1,103.6 417.3,103.2 417.5,103.0 417.7,102.8 417.9,102.7 418.1,102.8 418.3,102.9 418.5,103.1 418.7,103.3 418.9,103.6 419.1,103.9 419.3,104.2 419.5,104.5 419.7,104.7 419.9,105.0 420.1,105.1 420.3,105.3 420.5,105.4 420.7,105.5 420.9,105.5 421.1,105.5 421.3,105.5 421.5,105.5 421.7,105.5 421.9,105.4 422.1,105.4 422.3,105.4 422.5,105.3 422.7,105.3 422.9,105.3 423.1,105.3 423.3,105.3 423.5,105.3 423.7,105.2 423.9,105.2 424.1,105.3 424.3,105.3 424.5,105.4 424.7,105.4 424.9,105.5 425.1,105.5 425.3,105.5 425.5,105.5 425.7,105.5 425.9,105.5 426.1,105.5 426.3,105.5 426.5,105.5 426.7,105.5 426.9,105.6 427.1,105.6 427.3,105.7 427.5,105.8 427.7,105.8 427.9,105.7 428.1,105.7 428.3,105.6 428.5,105.6 428.7,105.5 428.9,105.5 429.1,105.4 429.3,105.4 429.5,105.4 429.7,105.3 429.9,105.2 430.1,105.2 430.3,105.1 430.5,105.0 430.7,104.9 430.9,104.7 431.1,104.6 431.3,104.4 431.5,104.1 431.7,103.9 431.9,103.6 432.1,103.3 432.3,103.1 432.5,102.9 432.7,102.8 432.9,102.7 433.1,102.8 433.3,103.0 433.5,103.2 433.7,103.5 433.9,103.8 434.1,104.1 434.3,104.3 434.5,104.6 434.7,104.7 434.9,104.9 435.1,105.0 435.3,105.1 435.5,105.2 435.7,105.3 435.9,105.4 436.1,105.5 436.3,105.5 436.5,105.5 436.7,105.5 436.9,105.4 437.1,105.3 437.3,105.3 437.5,105.2 437.7,105.2 437.9,105.2 438.1,105.2 438.3,105.3 438.5,105.3 438.7,105.4 438.9,105.5 439.1,105.5 439.3,105.6 439.5,105.7 439.7,105.7 439.9,105.7 440.1,105.7 440.3,105.7 440.5,105.7 440.7,105.6 440.9,105.6 441.1,105.5 441.3,105.4 441.5,105.3 441.7,105.2 441.9,105.1 442.1,105.1 442.3,105.0 442.5,104.9 442.7,104.8 442.9,104.7 443.1,104.5 443.3,104.3 443.5,104.2 443.7,104.1 443.9,104.1 444.1,104.1 444.3,104.3 444.5,104.4 444.7,104.5 444.9,104.7 445.1,104.8 445.3,104.9 445.5,105.1 445.7,105.2 445.9,105.3 446.1,105.4 446.3,105.4 446.5,105.4 446.7,105.4 446.9,105.4 447.1,105.4 447.3,105.5 447.5,105.5 447.7,105.6 447.9,105.7 448.1,105.8 448.3,105.8 448.5,105.8 448.7,105.7 448.9,105.7 449.1,105.6 449.3,105.6 449.5,105.6 449.7,105.5 449.9,105.5 450.1,105.5 450.3,105.5 450.5,105.5 450.7,105.4 450.9,105.4 451.1,105.4 451.3,105.4 451.5,105.4 451.7,105.4 451.9,105.4 452.1,105.4 452.3,105.3 452.5,105.2 452.7,105.2 452.9,105.1 453.1,105.1 453.3,105.2 453.5,105.2 453.7,105.3 453.9,105.3 454.1,105.4 454.3,105.4 454.5,105.4 454.7,105.4 454.9,105.5 455.1,105.5 455.3,105.6 455.5,105.6 455.7,105.6 455.9,105.6 456.1,105.6 456.3,105.6 456.5,105.6 456.7,105.7 456.9,105.7 457.1,105.7" fill="none" stroke="#1b6be3" stroke-width="1.45" stroke-linejoin="round"/>
<path d="M165.5 302.3V317.2M203.4 302.3V317.2M324.4 302.3V317.2M398.3 302.3V317.2M421.1 302.3V317.2" stroke="#ff30e0" stroke-width="1" fill="none"/>
<path d="M27.1 321V336.5M52.3 321V336.5M84.5 321V336.5M94.6 321V336.5M111.3 321V336.5M130.0 321V336.5M132.7 321V336.5M171.5 321V336.5M173.9 321V336.5M181.6 321V336.5M197.9 321V336.5M209.8 321V336.5M216.3 321V336.5M216.9 321V336.5M227.3 321V336.5M234.9 321V336.5M243.3 321V336.5M248.0 321V336.5M258.1 321V336.5M259.1 321V336.5M264.7 321V336.5M269.5 321V336.5M270.9 321V336.5M273.9 321V336.5M286.4 321V336.5M298.4 321V336.5M301.4 321V336.5M303.7 321V336.5M304.5 321V336.5M315.3 321V336.5M332.6 321V336.5M338.6 321V336.5M339.4 321V336.5M340.2 321V336.5M343.5 321V336.5M349.8 321V336.5M354.0 321V336.5M356.6 321V336.5M362.0 321V336.5M367.1 321V336.5M373.9 321V336.5M374.9 321V336.5M380.6 321V336.5M393.9 321V336.5M394.7 321V336.5M395.3 321V336.5M402.8 321V336.5M409.3 321V336.5M414.4 321V336.5M417.2 321V336.5M420.9 321V336.5M421.8 321V336.5M424.4 321V336.5M429.4 321V336.5M433.4 321V336.5M439.5 321V336.5M451.6 321V336.5M452.4 321V336.5M456.2 321V336.5" stroke="#3a3aff" stroke-width="1.1" fill="none"/>
<path d="M42.4 339.6V354.8M49.5 339.6V354.8M68.1 339.6V354.8M88.1 339.6V354.8M94.9 339.6V354.8M126.7 339.6V354.8M129.6 339.6V354.8M145.6 339.6V354.8M161.6 339.6V354.8M165.2 339.6V354.8M170.5 339.6V354.8M171.5 339.6V354.8M176.0 339.6V354.8M188.1 339.6V354.8M192.2 339.6V354.8M198.4 339.6V354.8M214.2 339.6V354.8M237.5 339.6V354.8M240.5 339.6V354.8M243.4 339.6V354.8M247.2 339.6V354.8M251.5 339.6V354.8M255.6 339.6V354.8M264.7 339.6V354.8M269.8 339.6V354.8M277.5 339.6V354.8M282.7 339.6V354.8M284.2 339.6V354.8M286.3 339.6V354.8M287.3 339.6V354.8M294.3 339.6V354.8M302.2 339.6V354.8M304.7 339.6V354.8M305.7 339.6V354.8M317.8 339.6V354.8M318.6 339.6V354.8M322.9 339.6V354.8M330.5 339.6V354.8M337.0 339.6V354.8M342.7 339.6V354.8M343.3 339.6V354.8M352.0 339.6V354.8M358.9 339.6V354.8M359.9 339.6V354.8M360.9 339.6V354.8M361.7 339.6V354.8M363.5 339.6V354.8M366.7 339.6V354.8M369.7 339.6V354.8M373.6 339.6V354.8M377.6 339.6V354.8M380.6 339.6V354.8M390.5 339.6V354.8M393.7 339.6V354.8M394.5 339.6V354.8M395.3 339.6V354.8M404.3 339.6V354.8M413.2 339.6V354.8M414.2 339.6V354.8M415.8 339.6V354.8M418.0 339.6V354.8M419.7 339.6V354.8M421.5 339.6V354.8M424.1 339.6V354.8M430.6 339.6V354.8M433.1 339.6V354.8M433.9 339.6V354.8M444.1 339.6V354.8M448.9 339.6V354.8M452.6 339.6V354.8" stroke="#484848" stroke-width="1.1" fill="none"/>
<rect x="13.5" y="5.6" width="443.6" height="357.0" fill="none" stroke="#000" stroke-width="1.4"/>
<path d="M13.5 362.6V369.6M102.2 362.6V369.6M190.9 362.6V369.6M279.7 362.6V369.6M368.4 362.6V369.6M457.1 362.6V369.6M57.9 362.6V366.40000000000003M146.6 362.6V366.40000000000003M235.3 362.6V366.40000000000003M324.0 362.6V366.40000000000003M412.7 362.6V366.40000000000003" stroke="#000" stroke-width="1.4" fill="none"/>
<g font-family="'Liberation Sans', Arial, sans-serif" font-size="18" text-anchor="middle" fill="#000" stroke="#000" stroke-width="0.2">
<text x="13.4" y="389.0">10</text>
<text x="102.1" y="389.0">20</text>
<text x="190.8" y="389.0">30</text>
<text x="279.6" y="389.0">40</text>
<text x="368.3" y="389.0">50</text>
<text x="457.0" y="389.0">60</text>
</g>
<text x="220" y="427" font-family="'Liberation Sans', Arial, sans-serif" font-size="23" fill="#000">2<tspan font-family="'Liberation Serif', 'DejaVu Serif', serif" font-size="25.3">Θ</tspan></text>
<rect x="386.5" y="13.7" width="62.3" height="51.3" fill="#fff" stroke="#000" stroke-width="1.4"/>
<path d="M389 22.6H419.3" stroke="#404040" stroke-width="1.3"/>
<path d="M389 39.2H419.3" stroke="#ff2a2a" stroke-width="1.4"/>
<path d="M389 55.8H419.3" stroke="#1b6be3" stroke-width="1.9"/>
<g font-family="'Liberation Sans', Arial, sans-serif" font-size="13.2" fill="#000" stroke="#000" stroke-width="0.15">
<text x="422.8" y="27">P14</text>
<text x="422.8" y="43.6">P15</text>
<text x="422.8" y="60.2">P16</text>
</g>
<g font-family="'Liberation Sans', Arial, sans-serif" font-size="15.2" fill="#000" stroke="#000" stroke-width="0.2">
<text x="461.5" y="313.2">CuBr</text>
<text x="461.5" y="332.2">CsCu<tspan font-size="10.3" dy="4.2">2</tspan><tspan dy="-4.2">Br</tspan><tspan font-size="10.3" dy="4.2">3</tspan></text>
<text x="461.5" y="351.2">Cs<tspan font-size="10.3" dy="4.2">3</tspan><tspan dy="-4.2">In</tspan><tspan font-size="10.3" dy="4.2">2</tspan><tspan dy="-4.2">Br</tspan><tspan font-size="10.3" dy="4.2">9</tspan></text>
</g>
<circle cx="42.1" cy="100.5" r="3.15"/>
<circle cx="48.8" cy="97.9" r="3.15"/>
<circle cx="87.7" cy="99.2" r="3.15"/>
<circle cx="125.7" cy="98.7" r="3.15"/>
<circle cx="129.3" cy="95" r="3.15"/>
<circle cx="161" cy="93.2" r="3.15"/>
<circle cx="166" cy="16.6" r="3.15"/>
<circle cx="171.8" cy="80" r="3.15"/>
<circle cx="176.4" cy="90.8" r="3.15"/>
<circle cx="192.1" cy="85.8" r="3.15"/>
<circle cx="214" cy="86" r="3.15"/>
<circle cx="240.2" cy="92.3" r="3.15"/>
<circle cx="284.5" cy="99.3" r="3.15"/>
<circle cx="301.7" cy="98" r="3.15"/>
<circle cx="304.6" cy="95.7" r="3.15"/>
<circle cx="318.5" cy="99.3" r="3.15"/>
<circle cx="336.4" cy="96.9" r="3.15"/>
<circle cx="342.7" cy="88.5" r="3.15"/>
<circle cx="373.3" cy="94.9" r="3.15"/>
<circle cx="42.1" cy="191" r="3.15"/>
<circle cx="48.8" cy="177.6" r="3.15"/>
<circle cx="67.4" cy="193.9" r="3.15"/>
<circle cx="87.8" cy="189.6" r="3.15"/>
<circle cx="128.8" cy="177" r="3.15"/>
<circle cx="159.9" cy="181.3" r="3.15"/>
<circle cx="164.2" cy="179.4" r="3.15"/>
<circle cx="174.6" cy="110" r="3.15"/>
<circle cx="191.9" cy="158.8" r="3.15"/>
<circle cx="213.8" cy="133.7" r="3.15"/>
<circle cx="240" cy="178.4" r="3.15"/>
<circle cx="282" cy="185.6" r="3.15"/>
<circle cx="305" cy="163.8" r="3.15"/>
<circle cx="373.4" cy="164.8" r="3.15"/>
<circle cx="411.7" cy="188.8" r="3.15"/>
<circle cx="417.5" cy="170.9" r="3.15"/>
<circle cx="443.2" cy="185.8" r="3.15"/>
<circle cx="42.1" cy="288.3" r="3.15"/>
<circle cx="48.9" cy="278.2" r="3.15"/>
<circle cx="67" cy="289" r="3.15"/>
<circle cx="87.6" cy="288.3" r="3.15"/>
<circle cx="128.7" cy="266.5" r="3.15"/>
<circle cx="160.8" cy="284" r="3.15"/>
<circle cx="164.8" cy="246.5" r="3.15"/>
<circle cx="175.1" cy="205.5" r="3.15"/>
<circle cx="191.9" cy="274.9" r="3.15"/>
<circle cx="213.9" cy="234" r="3.15"/>
<circle cx="240" cy="282.4" r="3.15"/>
<circle cx="282" cy="281.2" r="3.15"/>
<circle cx="304.9" cy="263.8" r="3.15"/>
<circle cx="340.8" cy="236.4" r="3.15"/>
<circle cx="343" cy="273" r="3.15"/>
<circle cx="373.3" cy="284.2" r="3.15"/>
<circle cx="417.6" cy="269.2" r="3.15"/>
<circle cx="443.3" cy="279.5" r="3.15"/>
<circle cx="539.9" cy="347" r="3.15"/>
<path d="M166 6.1000000000000005L170.2 10.3L166 14.5L161.8 10.3Z"/>
<path d="M324.3 88.1L328.5 92.3L324.3 96.5L320.1 92.3Z"/>
<path d="M398.2 90.8L402.4 95L398.2 99.2L394.0 95Z"/>
<path d="M164 166.4L168.2 170.6L164 174.79999999999998L159.8 170.6Z"/>
<path d="M164.8 251.4L169.0 255.6L164.8 259.8L160.60000000000002 255.6Z"/>
<path d="M324.3 269.3L328.5 273.5L324.3 277.7L320.1 273.5Z"/>
<path d="M397.8 277.90000000000003L402.0 282.1L397.8 286.3L393.6 282.1Z"/>
<path d="M539.9 308.0L544.1 312.2L539.9 316.4L535.6999999999999 312.2Z"/>
<path d="M129.7 159.3V171.7M123.79999999999998 162.0L135.6 169.0M123.79999999999998 169.0L135.6 162.0M170.2 140.3V152.7M164.29999999999998 143.0L176.1 150.0M164.29999999999998 150.0L176.1 143.0M182 173.20000000000002V185.6M176.1 175.9L187.9 182.9M176.1 182.9L187.9 175.9M304.1 171.4V183.79999999999998M298.20000000000005 174.1L310.0 181.1M298.20000000000005 181.1L310.0 174.1M339.9 147.5V159.89999999999998M334.0 150.2L345.79999999999995 157.2M334.0 157.2L345.79999999999995 150.2M342.8 159.4V171.79999999999998M336.90000000000003 162.1L348.7 169.1M336.90000000000003 169.1L348.7 162.1M373 171.4V183.79999999999998M367.1 174.1L378.9 181.1M367.1 181.1L378.9 174.1M432.2 180.10000000000002V192.5M426.3 182.8L438.09999999999997 189.8M426.3 189.8L438.09999999999997 182.8M26.3 280.8V293.2M20.4 283.5L32.2 290.5M20.4 290.5L32.2 283.5M129.1 249.3V261.7M123.19999999999999 252.0L135.0 259.0M123.19999999999999 259.0L135.0 252.0M170.2 253.3V265.7M164.29999999999998 256.0L176.1 263.0M164.29999999999998 263.0L176.1 256.0M304 271.0V283.4M298.1 273.7L309.9 280.7M298.1 280.7L309.9 273.7M432 276.1V288.5M426.1 278.8L437.9 285.8M426.1 285.8L437.9 278.8M539.9 324.1V336.5M534.0 326.8L545.8 333.8M534.0 333.8L545.8 326.8" stroke="#000" stroke-width="1.4" fill="none"/>
</svg>
</body></html>
